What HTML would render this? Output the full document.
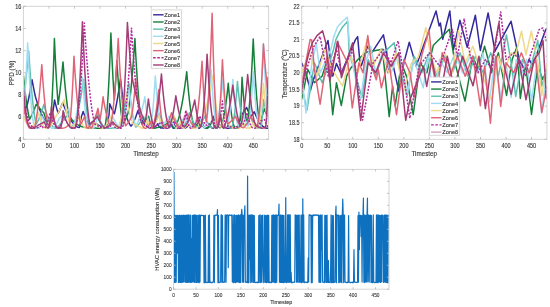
<!DOCTYPE html><html><head><meta charset="utf-8"><style>html,body{margin:0;padding:0;background:#fff;overflow:hidden}</style></head><body><svg width="550" height="307" viewBox="0 0 550 307" style="display:block;font-family:'Liberation Sans',Arial,Helvetica,sans-serif">
<rect width="550" height="307" fill="#ffffff"/>
<g clip-path="url(#cl)">
<polyline points="23.4,113.84 23.91,112.74 24.42,111.59 24.93,110.41 25.44,109.19 25.95,107.92 26.46,106.61 26.98,105.26 27.49,103.87 28,101.61 28.51,99.24 29.02,96.77 29.53,94.2 30.04,91.53 30.55,88.75 31.06,85.87 31.57,82.88 32.08,79.8 32.59,82.63 33.11,85.38 33.62,88.04 34.13,90.61 34.64,93.1 35.15,95.5 35.3,96.2 35.66,97.43 36.17,99.15 36.68,100.82 37.19,102.43 37.7,104 38.21,105.52 38.73,106.99 39.24,108.41 39.75,109.77 40.26,111.09 40.77,112.36 41.28,113.59 41.79,114.76 42.3,115.88 42.81,116.95 43.32,117.98 43.83,118.95 44.34,119.88 44.86,120.76 45.37,121.58 45.88,122.36 46.39,123.09 46.9,123.78 47.41,124.41 47.92,124.99 48.43,125.53 48.94,126.02 49.45,126.45 49.71,126.65 49.96,126.02 50.47,124.44 50.98,122.44 51.5,120 52.01,117.13 52.52,113.84 53.03,110.81 53.54,107.49 54.05,103.87 54.56,99.97 55.07,102.13 55.58,104.2 56.09,106.18 56.6,108.08 57.12,109.89 57.63,111.62 58.14,113.26 58.65,112.23 59.16,111.16 59.67,110.06 60.18,108.93 60.69,107.76 61.2,106.55 61.71,105.32 62.22,104.04 62.73,102.73 63.25,104.12 63.76,105.46 64.27,106.76 64.78,108.03 65.29,109.26 65.8,110.44 66.31,111.59 66.82,112.7 67.33,113.78 67.84,114.81 68.35,115.8 68.86,116.76 69.38,117.68 69.89,118.56 70.4,119.4 70.91,120.2 71.42,120.96 71.93,121.69 72.44,122.38 72.95,123.02 73.46,123.64 73.97,124.21 74.48,124.74 74.99,125.24 75.5,125.69 76.02,126.11 76.53,126.5 77.04,126.84 77.55,127.03 78.06,127.21 78.57,127.37 79.08,127.52 79.34,127.58 79.59,126.96 80.1,125.06 80.61,122.31 81.12,118.7 81.38,116.58 81.64,115.9 82.15,114.49 82.66,113 83.17,111.44 83.68,112.91 84.19,114.31 84.7,115.65 85.21,116.92 85.72,118.12 86.23,119.25 86.74,120.32 87.25,121.31 87.76,122.24 88.28,123.11 88.79,123.9 89.3,124.63 89.81,124.26 90.32,123.88 90.83,123.47 91.34,123.05 91.85,122.61 92.36,122.15 92.87,121.68 93.38,121.18 93.9,121.65 94.41,122.09 94.92,122.53 95.43,122.94 95.94,123.34 96.45,123.73 96.96,124.1 97.47,124.45 97.98,124.79 98.49,125.11 99,125.42 99.51,125.71 100.03,125.98 100.54,126.24 101.05,126.48 101.56,126.71 102.07,126.92 102.58,127.11 103.09,127.29 103.6,127.46 104.11,127.6 104.62,127.73 105.13,127.85 105.64,127.39 106.16,126.75 106.67,125.93 107.18,124.93 107.69,123.74 108.2,122.37 108.4,121.77 108.71,118.67 109.22,112.13 109.73,103.87 110.24,105.11 110.75,106.32 111.26,107.49 111.77,108.63 112.28,109.74 112.8,110.81 113.31,111.85 113.82,112.86 114.33,113.84 114.84,111.72 115.35,109.46 115.86,107.05 116.37,104.5 116.88,101.79 117.39,98.94 117.9,95.95 118.42,92.8 118.93,89.5 119.44,86.06 119.95,82.47 120.46,78.73 120.97,83.2 121.48,87.46 121.99,91.5 122.5,95.33 123.01,98.94 123.52,102.35 124.03,105.54 124.55,108.52 125.06,111.28 125.57,113.84 126.08,115.47 126.59,117.01 127.1,118.45 127.61,119.79 128.12,121.03 128.63,122.17 129.14,123.21 129.65,124.15 130.16,125 130.68,125.74 130.98,126.15 131.19,125.9 131.7,125.24 132.21,124.5 132.72,123.67 133.23,122.76 133.74,121.77 134.25,120.69 134.76,119.53 135.27,118.29 135.78,116.96 136.29,115.55 136.81,114.05 137.32,112.47 137.83,110.81 138.34,112.12 138.85,113.38 139.36,114.58 139.87,115.74 140.38,116.84 140.89,117.89 141.4,118.89 141.91,119.84 142.32,120.56 142.42,120.74 142.94,121.61 143.45,122.42 143.96,123.18 144.47,123.89 144.98,124.54 145.49,125.14 146,125.69 146.51,126.18 147.02,126.62 147.53,127 148.04,127.34 148.55,127.62 149.06,127.84 149.58,128.02 150.09,128.14 150.6,128.2 151.11,128.21 151.62,128.18 152.13,128.08 152.64,127.94 153.15,127.74 153.66,127.5 154.17,127.2 154.68,126.86 155.2,126.46 155.71,126.01 156.22,125.51 156.73,124.97 157.24,124.37 157.75,123.72 158.26,124.84 158.77,125.81 159.28,126.61 159.79,127.25 160.3,127.73 160.81,128.04 161.33,127.91 161.84,127.74 162.09,127.64 162.35,127.91 162.86,128.2 163.37,128.14 163.88,127.75 164.39,127.01 164.9,127.46 165.41,127.81 165.92,128.05 166.43,128.18 166.94,128.21 167.46,128.14 167.97,127.96 168.48,127.67 168.99,127.27 169.5,126.77 170.01,126.17 170.52,125.46 171.03,124.64 171.54,123.72 172.05,126 172.56,127.49 173.07,128.17 173.59,128.05 174.1,127.13 174.61,125.4 175.12,122.88 175.63,124.03 176.14,125.05 176.65,125.92 177.16,126.66 177.67,127.25 178.18,127.7 178.69,128.01 179.2,128.18 179.72,128.21 180.23,128.1 180.74,127.85 181.25,127.45 181.61,127.09 181.76,127.22 182.27,127.61 182.78,127.9 183.29,128.09 183.8,128.2 184.31,128.21 184.82,128.13 185.33,127.96 185.85,127.7 186.36,127.34 186.87,126.9 187.38,126.36 187.89,125.73 188.4,125 188.91,124.19 189.42,125.05 189.93,125.81 190.44,126.46 190.95,127.01 191.46,127.46 191.97,127.8 192.49,128.04 193,128.18 193.51,128.22 194.02,128.15 194.53,127.97 195.04,127.7 195.55,127.32 196.06,126.84 196.57,126.25 197.08,125.56 197.59,126.74 198.11,127.58 198.62,128.07 199.13,128.22 199.64,128.02 200.15,127.49 200.66,126.61 201.17,125.39 201.68,123.82 202.04,122.52 202.19,122.92 202.7,124.13 203.21,125.19 203.72,126.09 204.24,126.84 204.75,127.42 205.26,127.84 205.77,128.11 206.28,128.21 206.79,128.16 207.3,127.95 207.81,127.58 208.32,127.06 208.83,126.37 209.34,125.53 209.8,124.63 209.85,124.75 210.37,125.85 210.88,126.74 211.39,127.42 211.9,127.89 212.41,128.16 212.92,128.21 213.43,128.06 213.94,127.7 214.45,127.13 214.96,126.35 215.47,125.37 215.98,124.17 216.5,122.77 216.7,122.15 217.01,122.47 217.52,122.98 218.03,123.46 218.54,123.93 219.05,124.36 219.56,124.78 220.07,125.17 220.58,125.54 221.09,125.88 221.6,126.2 222.11,126.5 222.62,126.77 223.14,127.02 223.65,127.25 224.16,127.45 224.67,127.63 225.18,127.78 225.69,127.91 226.2,128.02 226.71,128.11 227.22,128.17 227.73,128.2 228.24,128.22 228.76,128.21 229.27,128.17 229.78,128.12 230.29,128.04 230.8,127.93 231.31,127.8 231.82,127.65 232.33,127.48 232.74,127.32 232.84,127.42 233.35,127.83 233.86,128.09 234.37,128.21 234.89,128.18 235.4,128.01 235.91,127.68 236.42,127.21 236.93,126.6 237.44,125.84 237.95,124.93 238.46,123.88 238.97,122.67 239.48,121.32 239.99,119.83 240.5,118.18 241.02,116.39 241.32,115.24 241.53,114.98 242.04,114.31 242.55,113.62 243.06,112.91 243.57,112.19 244.08,111.44 244.59,110.69 245.1,109.91 245.61,109.12 246.12,108.31 246.63,107.49 247.15,108.77 247.66,110.01 248.17,111.2 248.68,112.36 249.19,113.48 249.7,114.55 250.21,115.58 250.72,116.58 251.23,115.94 251.74,115.28 252.25,114.61 252.76,113.92 253.28,113.21 253.79,112.49 254.3,111.75 254.81,113.01 255.32,114.21 255.83,115.37 256.34,116.48 256.85,117.54 257.36,118.54 257.87,119.5 258.38,120.41 258.89,121.26 259.41,122.07 259.92,122.83 260.43,123.53 260.94,124.19 261.45,124.8 261.96,125.36 262.47,125.86 262.98,126.32 263.49,126.73 264,127.09 264.51,127.4 265.02,127.66 265.54,127.87 266.05,128.03 266.56,128.14 267.07,128.2 267.32,128.22 267.58,128.22 268.09,128.21 268.6,128.19" fill="none" stroke="#33299c" stroke-width="1.5" stroke-linejoin="round" opacity="1.0"/>
<polyline points="23.4,75.3 23.91,80.49 24.27,83.97 24.42,85.38 24.93,89.93 25.44,94.22 25.95,98.25 26.46,102.03 26.98,105.55 27.49,108.81 28,111.82 28.51,114.57 29.02,117.06 29.53,119.31 30.04,118.42 30.55,117.48 31.06,116.5 31.57,115.48 32.08,114.41 32.59,113.31 33.11,112.16 33.62,110.96 34.13,109.72 34.64,108.44 35.15,107.12 35.66,105.75 36.17,104.34 36.68,104.96 37.19,105.57 37.7,106.17 38.21,106.76 38.73,107.34 39.24,107.92 39.75,108.49 40.26,109.05 40.77,109.6 41.28,110.14 41.79,110.68 42.3,111.2 42.81,111.72 43.32,112.23 43.83,112.74 44.34,114.53 44.86,116.22 45.37,117.8 45.88,119.26 46.39,120.61 46.9,121.85 47.41,122.98 47.92,124 48.43,124.91 48.94,125.71 49.45,126.4 49.71,126.7 49.96,125.41 50.47,121.63 50.98,116.26 51.5,109.29 52.01,100.71 52.52,90.51 53.03,78.67 53.54,65.18 54.05,50.05 54.41,38.47 54.56,42.02 55.07,53.34 55.58,63.85 56.09,73.55 56.6,82.44 57.12,90.54 57.63,97.84 58.14,104.34 58.65,100.89 59.16,97.2 59.67,93.27 60.18,89.1 60.69,84.7 61.2,80.06 61.71,75.17 62.22,70.05 62.73,64.69 62.99,61.92 63.25,65.16 63.76,71.38 64.27,77.28 64.78,82.86 65.29,88.1 65.8,93.02 66.31,97.61 66.82,101.87 67.33,105.82 67.84,109.44 68.35,112.74 68.86,113.86 69.38,114.95 69.89,115.99 70.4,116.98 70.91,117.94 71.42,118.85 71.93,119.72 72.18,120.14 72.44,120.39 72.95,120.87 73.46,121.34 73.97,121.8 74.48,122.24 74.99,122.66 75.5,123.07 76.02,123.46 76.53,123.84 77.04,124.2 77.55,124.55 78.06,124.88 78.57,125.19 79.08,125.49 79.59,125.78 80.1,125.97 80.61,126.15 81.12,126.33 81.64,126.5 82.15,126.66 82.66,126.81 83.17,126.96 83.68,127.09 84.19,127.22 84.7,127.34 85.21,127.46 85.72,127.56 86.23,127.66 86.74,127.75 87.25,127.83 87.76,127.9 88.07,127.95 88.28,127.95 88.79,127.96 89.3,127.98 89.81,127.99 90.32,128 90.83,128.02 91.34,128.03 91.85,128.04 92.36,128.05 92.87,128.06 93.38,128.07 93.9,128.08 94.41,128.09 94.92,128.1 95.43,128.11 95.94,128.12 96.45,128.13 96.96,128.14 97.47,128.14 97.98,128.15 98.49,128.16 99,128.16 99.51,128.17 100.03,128.18 100.54,128.18 101.05,128.19 101.56,128.19 102.07,128.19 102.58,128.2 103.09,128.2 103.6,128.2 104.11,128.21 104.62,127.55 105.13,125.85 105.64,123.1 106.16,119.31 106.67,114.47 107.18,108.56 107.69,101.6 108.2,93.56 108.71,84.45 109.22,74.26 109.73,62.99 110.24,50.62 110.75,37.16 110.91,32.91 111.26,41.71 111.77,53.53 112.28,64.47 112.8,74.53 113.31,83.71 113.82,92.02 114.33,99.46 114.84,92.99 115.35,85.85 115.86,78.05 116.37,69.57 116.88,60.42 117.39,68.71 117.9,76.45 118.42,83.65 118.93,90.29 119.44,96.4 119.95,101.96 120.46,106.98 120.97,111.46 121.48,115.41 121.99,118.83 122.5,121.72 123.01,124.07 123.52,123.26 124.03,122.38 124.55,121.43 125.06,120.41 125.57,119.31 126.08,118.14 126.59,116.9 127.1,115.58 127.61,114.2 128.12,112.74 128.63,109.31 129.14,105.53 129.65,101.41 130.16,96.94 130.68,92.11 131.19,86.94 131.7,81.42 132.21,75.54 132.72,69.31 133.23,62.72 133.74,55.78 134.25,48.48 134.76,40.83 134.91,38.47 135.27,45.57 135.78,55.21 136.29,64.25 136.81,72.67 137.32,80.49 137.83,87.71 138.34,94.33 138.85,100.35 139.36,105.78 139.87,110.61 140.38,114.86 140.89,118.51 141.4,121.58 141.91,124.07 142.42,123.61 142.94,123.13 143.45,122.63 143.96,122.1 144.47,121.54 144.98,120.97 145.49,120.36 146,119.74 146.51,119.09 147.02,118.42 147.53,117.72 148.04,117 148.55,116.25 149.06,118.29 149.58,120.13 150.09,121.78 150.6,123.25 151.11,124.52 151.62,125.61 152.13,126.51 152.64,127.22 153.15,127.74 153.66,128.07 154.17,128.21 154.68,128.16 155.09,127.99 155.2,127.98 155.71,127.9 156.22,127.82 156.73,127.72 157.24,127.61 157.75,127.49 158.26,127.37 158.77,127.23 159.28,127.08 159.79,126.92 160.3,126.75 160.81,126.57 161.33,126.38 161.84,126.18 162.35,125.96 162.86,125.74 163.37,125.51 163.88,125.26 164.39,125.01 164.9,124.74 165.41,124.47 165.92,124.18 166.43,123.89 166.94,123.58 167.46,123.26 167.97,122.94 168.48,122.6 168.99,122.25 169.5,121.89 170.01,121.52 170.52,121.14 171.03,120.75 171.13,120.67 171.54,122.49 172.05,124.42 172.56,125.95 173.07,127.09 173.59,127.83 174.1,128.19 174.61,128.15 175.12,127.72 175.63,126.89 176.14,125.68 176.65,124.07 177.16,122.87 177.67,121.51 178.18,120 178.69,118.33 179.2,116.51 179.72,114.53 180.23,112.4 180.74,110.11 181.25,107.67 181.76,105.07 182.27,102.31 182.78,99.4 183.29,96.33 183.8,93.1 184.31,89.72 184.82,86.18 185.33,82.47 185.85,78.61 186.36,74.59 186.71,71.68 186.87,73.58 187.38,79.65 187.89,85.36 188.4,90.71 188.91,95.69 189.42,100.32 189.93,104.59 190.44,108.5 190.95,112.05 191.46,115.25 191.97,118.09 192.49,120.58 193,122.72 193.51,124.51 194.02,125.95 194.53,127.03 195.04,126.58 195.55,126.06 196.06,125.47 196.57,124.81 197.08,124.07 197.59,123.26 198.11,122.38 198.62,121.43 199.13,120.41 199.64,119.31 200.15,120.77 200.66,122.1 201.17,123.3 201.68,124.36 202.19,125.3 202.7,126.11 203.21,126.78 203.72,127.33 204.24,127.74 204.75,128.03 205.26,128.18 205.77,128.21 206.28,128.11 206.79,128.21 207.3,128.17 207.81,127.99 208.32,127.65 208.83,127.17 209.34,126.55 209.85,125.78 210.37,124.86 210.88,123.79 211.39,122.58 211.9,121.22 212.41,119.71 212.92,118.05 213.43,116.25 213.94,117.72 214.45,119.09 214.96,120.36 215.47,121.54 215.98,122.63 216.5,123.61 217.01,124.5 217.52,125.3 218.03,126 218.54,126.6 219.05,127.11 219.56,127.52 220.07,127.84 220.58,127.23 221.09,126.33 221.6,125.15 222.11,123.68 222.62,121.92 223.14,119.87 223.65,117.53 224.16,114.9 224.67,111.98 225.18,108.77 225.69,105.26 226.2,101.47 226.71,97.38 227.22,92.99 227.73,88.31 228.24,83.33 228.76,89.4 229.27,95.02 229.78,100.2 230.29,104.93 230.8,109.22 231.31,113.07 231.82,116.49 232.33,119.46 232.84,122 233.35,124.11 233.86,125.78 234.37,126.33 234.89,126.82 235.4,127.23 235.91,127.57 236.42,127.84 236.93,128.04 237.44,128.16 237.95,128.21 238.46,128.2 238.72,128.16 238.97,128.11 239.48,126.09 239.99,121.52 240.5,114.39 241.02,104.66 241.53,92.33 242.04,77.37 242.55,84.41 243.06,90.92 243.57,96.9 244.08,102.35 244.59,107.27 245.1,111.67 245.61,115.55 246.12,118.91 246.63,121.75 247.15,124.07 247.66,121.17 248.17,117.5 248.68,113.06 249.19,107.85 249.7,101.86 250.21,95.08 250.72,87.52 251.23,79.17 251.74,70.03 252.25,60.09 252.76,49.36 253.22,39.01 253.28,40.1 253.79,50.6 254.3,60.42 254.81,69.57 255.32,78.05 255.83,85.85 256.34,92.99 256.85,99.46 257.36,105.26 257.87,110.41 258.38,114.9 258.89,118.73 259.41,121.92 259.92,120.93 260.43,119.87 260.94,118.73 261.45,117.53 261.96,116.25 262.47,114.9 262.98,113.48 263.49,111.98 264,110.41 264.51,108.77 265.02,110.31 265.54,111.79 266.05,113.2 266.56,114.55 267.07,115.84 267.58,117.06 268.09,118.21 268.6,119.31" fill="none" stroke="#16803a" stroke-width="1.5" stroke-linejoin="round" opacity="1.0"/>
<polyline points="23.4,99.46 23.91,95.83 24.42,91.98 24.93,87.91 25.44,83.62 25.95,79.11 26.46,74.38 26.98,69.43 27.49,64.26 28,58.87 28.51,53.25 28.71,50.94 29.02,55.78 29.53,63.49 30.04,70.75 30.55,77.58 31.06,83.97 31.57,89.93 32.08,95.44 32.59,100.53 33.11,105.18 33.62,109.4 34.13,113.18 34.64,116.54 35.15,119.48 35.66,121.99 36.17,124.07 36.68,123.26 37.19,122.38 37.7,121.43 38.21,120.41 38.73,119.31 39.24,118.14 39.75,116.9 40.26,115.58 40.77,114.2 41.28,112.74 41.79,111.2 42.3,109.6 42.81,107.92 43.32,106.17 43.83,104.34 44.34,106.24 44.86,108.06 45.37,109.8 45.88,111.46 46.39,113.05 46.9,114.55 47.41,115.97 47.92,117.32 48.43,118.59 48.94,119.77 49.45,120.88 49.96,121.92 50.47,123.02 50.98,124.02 51.5,124.91 52.01,125.69 52.52,126.37 53.03,126.94 53.54,127.41 54.05,127.77 54.56,128.02 55.07,128.17 55.33,128.21 55.58,128.21 56.09,128.08 56.6,127.77 57.12,127.27 57.63,126.58 58.14,126.17 58.65,125.71 59.16,125.21 59.67,124.65 60.18,124.06 60.49,123.68 60.69,123.45 61.2,122.88 61.71,122.27 62.22,121.63 62.73,120.95 63.25,120.25 63.76,119.51 64.27,118.73 64.78,118.23 65.29,117.71 65.8,117.18 66.31,116.64 66.82,116.08 67.33,115.52 67.84,114.93 68.35,114.34 68.86,113.73 69.38,113.11 69.89,122.53 70.4,127.44 70.91,127.84 71.42,127.46 71.93,126.95 72.44,126.3 72.95,125.53 73.46,124.63 73.97,123.59 74.48,122.42 74.99,121.12 75.5,119.69 76.02,118.13 76.53,116.43 77.04,114.61 77.55,112.65 78.06,110.55 78.57,108.33 79.08,105.97 79.59,103.47 80.1,100.84 80.61,98.08 81.12,95.18 81.64,92.15 82.15,88.99 82.66,85.68 83.17,82.25 83.58,79.4 83.68,80.64 84.19,86.61 84.7,92.17 85.21,97.32 85.72,102.08 86.23,106.43 86.74,110.38 87.25,113.94 87.76,117.1 88.28,119.86 88.79,122.22 89.3,124.2 89.81,125.78 90.32,125.26 90.83,124.69 91.34,124.07 91.85,123.4 92.36,122.68 92.87,121.92 93.38,121.1 93.9,120.23 94.41,119.31 94.92,118.34 95.43,117.32 95.94,116.25 96.45,115.13 96.96,113.96 97.47,112.74 97.98,114.43 98.49,116.03 99,117.53 99.51,118.93 100.03,120.23 100.54,121.43 101.05,122.53 101.56,123.54 102.07,124.45 102.58,125.26 103.09,125.97 103.6,126.58 104.11,127.1 104.62,127.52 105.13,127.84 105.64,127.92 106.16,127.99 106.67,128.05 107.18,128.1 107.69,128.14 108.2,128.17 108.71,128.2 109.22,128.21 109.73,128.22 110.24,128.21 110.75,128.2 111.26,128.18 111.77,128.15 112.28,128.11 112.8,128.06 113.31,128 113.82,127.93 114.33,127.85 114.84,127.77 115.35,127.67 115.86,127.57 116.37,128.03 116.88,128.21 117.39,128.13 117.9,127.77 118.42,127.14 118.93,126.24 119.44,125.07 119.95,123.63 120.46,121.92 120.97,120.58 121.48,119.12 121.99,117.53 122.5,115.81 123.01,113.96 123.52,111.98 124.03,109.87 124.55,107.63 125.06,105.26 125.57,102.77 126.08,100.14 126.59,97.38 127.1,94.48 127.61,91.46 128.12,88.31 128.63,85.02 128.89,83.33 129.14,86.08 129.65,91.33 130.16,96.23 130.68,100.77 131.19,104.96 131.7,108.8 132.21,112.29 132.72,115.43 133.23,118.23 133.74,120.68 134.25,122.78 134.76,124.54 135.27,125.96 135.78,127.03 136.29,126.66 136.81,126.24 137.32,125.78 137.83,125.26 138.34,124.69 138.85,124.07 139.36,123.4 139.87,122.68 140.38,121.92 140.89,121.1 141.4,120.23 141.91,119.31 142.42,118.34 142.94,117.32 143.45,116.25 143.96,117.53 144.47,118.73 144.98,119.87 145.49,120.93 146,121.92 146.51,122.83 147.02,123.68 147.53,124.45 148.04,125.15 148.55,125.78 149.06,126.33 149.58,126.82 150.09,127.23 150.6,127.57 151.11,127.84 151.62,127.52 152.13,127.1 152.64,126.58 153.15,125.97 153.66,125.26 154.17,124.45 154.68,123.54 155.2,122.53 155.71,121.43 156.22,120.23 156.73,118.93 157.24,117.53 157.75,116.03 158.26,114.43 158.77,112.74 159.28,114.2 159.79,115.58 160.3,116.9 160.81,118.14 161.33,119.31 161.84,120.41 162.35,121.43 162.86,122.38 163.37,123.26 163.88,124.07 164.39,124.81 164.9,125.47 165.41,126.06 165.92,126.58 166.43,127.03 166.94,126.66 167.46,126.24 167.97,125.78 168.48,125.26 168.99,124.69 169.5,124.07 170.01,123.4 170.52,122.68 171.03,121.92 171.54,121.1 172.05,120.23 172.56,119.31 173.07,118.34 173.59,117.32 174.1,116.25 174.61,117.53 175.12,118.73 175.63,119.87 176.14,120.93 176.65,121.92 177.16,122.83 177.67,123.68 178.18,124.45 178.69,125.15 179.2,125.78 179.72,126.33 180.23,126.82 180.74,127.23 181.25,127.57 181.76,127.84 182.27,127.52 182.78,127.1 183.29,126.58 183.8,125.97 184.31,125.26 184.82,124.45 185.33,123.54 185.85,122.53 186.36,121.43 186.87,120.23 187.38,118.93 187.89,117.53 188.4,116.03 188.91,114.43 189.42,112.74 189.93,114.2 190.44,115.58 190.95,116.9 191.46,118.14 191.97,119.31 192.49,120.41 193,121.43 193.51,122.38 194.02,123.26 194.53,124.07 195.04,124.81 195.55,125.47 196.06,126.06 196.57,126.58 197.08,127.03 197.59,126.66 198.11,126.24 198.62,125.78 199.13,125.26 199.64,124.69 200.15,124.07 200.66,123.4 201.17,122.68 201.68,121.92 202.19,121.1 202.7,120.23 203.21,119.31 203.72,118.34 204.24,117.32 204.75,116.25 205.26,117.53 205.77,118.73 206.28,119.87 206.79,120.93 207.3,121.92 207.81,122.83 208.32,123.68 208.83,124.45 209.34,125.15 209.85,125.78 210.37,126.33 210.88,126.82 211.39,127.23 211.9,127.57 212.41,127.84 212.92,127.52 213.43,127.1 213.94,126.58 214.45,125.97 214.96,125.26 215.47,124.45 215.98,123.54 216.5,122.53 217.01,121.43 217.52,120.23 218.03,118.93 218.54,117.53 219.05,116.03 219.56,114.43 220.07,112.74 220.58,115.53 221.09,118.05 221.6,120.28 222.11,122.24 222.62,123.92 223.14,125.33 223.65,126.45 224.16,127.3 224.67,127.87 225.18,128.17 225.69,128.19 226.2,127.94 226.71,127.41 227.22,126.6 227.73,125.51 228.14,124.45 228.24,124.78 228.76,126.19 229.27,127.24 229.78,127.91 230.29,128.2 230.8,128.12 231.31,127.67 231.82,126.85 232.33,125.65 232.84,124.07 233.35,121.62 233.86,118.6 234.37,115.01 234.89,110.85 235.4,106.12 235.91,100.81 236.42,94.91 236.93,88.44 237.44,81.38 237.95,86.81 238.46,91.89 238.97,96.64 239.48,101.05 239.99,105.12 240.5,108.87 241.02,112.27 241.53,115.35 242.04,118.09 242.55,120.51 243.06,122.59 243.57,124.35 244.08,125.78 244.59,125.3 245.1,124.78 245.61,124.22 246.12,123.61 246.63,122.97 247.15,122.28 247.66,121.54 248.17,120.77 248.68,119.95 249.19,119.09 249.7,118.19 250.21,117.24 250.72,116.25 251.23,118.03 251.74,119.67 252.25,121.16 252.76,122.51 253.28,123.72 253.79,124.78 254.3,125.7 254.81,126.47 255.32,127.11 255.83,127.6 256.34,127.95 256.85,128.15 257.36,128.22 257.87,128.14 258.38,127.92 258.89,127.55 259.41,127.04 259.51,126.93 259.92,127.99 260.43,128.09 260.94,126.8 261.45,124.12 261.96,120.06 262.47,114.6 262.98,107.73 263.49,99.46 264,101.96 264.51,104.34 265.02,106.61 265.54,108.77 266.05,110.81 266.56,112.74 267.07,114.55 267.58,116.25 268.09,117.84 268.6,119.31" fill="none" stroke="#5cc0b0" stroke-width="1.5" stroke-linejoin="round" opacity="1.0"/>
<polyline points="23.4,112.74 23.91,107.4 24.42,101.27 24.93,94.33 25.44,86.59 25.95,78.04 26.46,68.68 26.98,58.5 27.49,47.5 27.69,42.88 28,49.67 28.51,60.36 29.02,70.25 29.53,79.35 30.04,87.66 30.55,95.19 31.06,101.94 31.57,107.91 32.08,113.1 32.59,117.52 33.11,121.18 33.62,124.07 34.13,125.25 34.64,126.23 35.15,127.02 35.66,127.61 36.17,128 36.68,128.19 37.19,128.19 37.7,127.99 38.01,127.78 38.21,128.02 38.73,128.21 39.24,127.81 39.75,126.82 40.26,125.25 40.77,123.09 41.28,120.34 41.79,116.99 41.89,116.25 42.3,117.13 42.81,118.18 43.32,119.18 43.83,120.13 44.34,121.02 44.86,121.86 45.37,122.65 45.88,123.39 46.39,124.07 46.9,124.68 47.41,125.25 47.92,125.76 48.43,126.23 48.94,126.65 49.45,127.01 49.96,127.33 50.47,127.6 50.98,127.82 51.5,128 52.01,128.12 52.52,128.19 52.72,128.21 53.03,128.21 53.54,128.03 54.05,127.64 54.56,127.02 55.07,126.19 55.58,125.15 56.09,124.45 56.6,123.68 57.12,122.83 57.63,121.92 58.14,120.93 58.65,119.87 59.16,118.73 59.67,118.23 60.18,117.71 60.69,117.18 61.2,116.64 61.71,116.08 62.22,115.52 62.73,114.93 63.25,114.34 63.76,113.73 64.27,113.11 64.78,112.63 65.29,112.14 65.8,111.64 66.31,111.14 66.82,110.63 67.33,110.11 67.84,109.59 68.35,109.05 68.86,108.51 69.02,108.35 69.38,113.54 69.89,119.59 70.4,124.04 70.91,126.89 71.42,128.15 71.62,128.21 71.93,128.11 72.44,127.71 72.95,127.02 73.46,126.03 73.97,124.75 74.48,123.16 74.99,121.29 75.5,119.11 76.02,116.64 76.53,113.86 77.04,110.79 77.55,107.41 78.06,103.74 78.57,99.76 79.08,95.48 79.59,90.89 80.1,86 80.61,80.8 81.12,75.3 81.64,76.45 82.15,77.6 82.66,78.73 83.17,86.27 83.68,93.18 84.19,99.46 84.7,105.11 85.21,110.14 85.72,114.55 86.23,118.34 86.74,121.51 87.25,124.07 87.76,124.98 88.28,125.78 88.79,126.46 89.3,127.03 89.81,127.49 90.32,127.84 90.83,128.07 91.34,128.2 91.85,128.21 92.36,128.11 92.87,128.21 93.38,128.04 93.9,127.57 94.41,126.82 94.92,125.78 95.43,124.45 95.94,122.83 96.45,120.93 96.96,118.73 97.47,116.25 97.98,117.73 98.49,119.12 99,120.41 99.51,121.59 100.03,122.68 100.54,123.68 101.05,124.57 101.56,125.36 102.07,126.06 102.58,126.66 103.09,127.16 103.6,127.57 104.11,127.88 104.62,128.08 105.13,128.2 105.64,128.08 106.16,127.88 106.67,127.57 107.18,127.16 107.69,126.66 108.2,126.06 108.71,125.36 109.22,124.57 109.73,123.68 110.24,122.68 110.75,121.59 111.26,120.41 111.77,119.12 112.28,117.73 112.8,116.25 113.31,117.53 113.82,118.73 114.33,119.87 114.84,120.93 115.35,121.92 115.86,122.83 116.37,123.68 116.88,124.45 117.39,125.15 117.9,125.78 118.42,126.33 118.93,126.82 119.44,127.23 119.95,127.57 120.46,127.84 120.97,127.3 121.48,126.52 121.99,125.5 122.5,124.24 123.01,122.75 123.52,121.02 124.03,119.05 124.55,116.84 125.06,114.39 125.57,111.7 126.08,108.77 126.59,105.6 127.1,102.18 127.61,98.52 128.12,94.62 128.63,90.47 128.89,88.31 129.14,90.51 129.65,94.73 130.16,98.7 130.68,102.41 131.19,105.87 131.7,109.08 132.21,112.04 132.72,114.74 133.23,117.2 133.74,119.41 134.25,121.38 134.76,123.09 135.27,124.56 135.78,125.78 136.29,125.01 136.81,124.15 137.32,123.18 137.83,122.1 138.34,120.92 138.85,119.64 139.36,118.26 139.87,116.76 140.38,115.17 140.89,113.47 141.4,111.66 141.91,109.75 142.42,107.74 142.94,105.61 143.45,103.39 143.96,101.05 144.47,98.61 144.83,96.84 144.98,98.3 145.49,102.92 146,107.15 146.51,110.98 147.02,114.43 147.53,117.49 148.04,120.17 148.55,122.46 149.06,124.36 149.58,125.89 150.09,127.03 150.6,125.37 151.11,122.99 151.62,119.88 152.13,116.06 152.64,111.5 153.15,106.22 153.66,100.21 154.17,93.45 154.68,85.96 155.2,77.73 155.3,75.99 155.71,81.43 156.22,87.79 156.73,93.69 157.24,99.11 157.75,104.07 158.26,108.55 158.77,112.58 159.28,116.14 159.79,119.24 160.3,121.87 160.81,124.05 161.33,125.78 161.84,125.36 162.35,124.92 162.86,124.45 163.37,123.94 163.88,123.4 164.39,122.83 164.9,122.23 165.41,121.59 165.92,120.93 166.43,120.23 166.94,119.5 167.46,118.73 167.97,117.94 168.48,117.11 168.99,116.25 169.5,117.53 170.01,118.73 170.52,119.87 171.03,120.93 171.54,121.92 172.05,122.83 172.56,123.68 173.07,124.45 173.59,125.15 174.1,125.78 174.61,126.33 175.12,126.82 175.63,127.23 176.14,127.57 176.65,127.84 177.16,127.57 177.67,127.23 178.18,126.82 178.69,126.33 179.2,125.78 179.72,125.15 180.23,124.45 180.74,123.68 181.25,122.83 181.76,121.92 182.27,120.93 182.78,119.87 183.29,118.73 183.8,117.53 184.31,116.25 184.82,117.32 185.33,118.34 185.85,119.31 186.36,120.23 186.87,121.1 187.38,121.92 187.89,122.68 188.4,123.4 188.91,124.07 189.42,124.69 189.93,125.26 190.44,125.78 190.95,126.24 191.46,126.66 191.97,127.03 192.49,126.66 193,126.24 193.51,125.78 194.02,125.26 194.53,124.69 195.04,124.07 195.55,123.4 196.06,122.68 196.57,121.92 197.08,121.1 197.59,120.23 198.11,119.31 198.62,118.34 199.13,117.32 199.64,116.25 200.15,118.14 200.66,119.87 201.17,121.43 201.68,122.83 202.19,124.07 202.7,125.15 203.21,126.06 203.72,126.82 204.24,127.41 204.75,127.84 205.26,126.83 205.77,125.2 206.28,122.93 206.79,120.03 207.3,116.5 207.81,112.33 208.32,107.52 208.83,102.06 209.34,95.97 209.85,89.22 210.37,81.82 210.88,73.77 211.13,69.5 211.39,73.9 211.9,82.17 212.41,89.74 212.92,96.63 213.43,102.83 213.94,108.35 214.45,113.18 214.96,117.34 215.47,120.82 215.98,123.64 216.5,125.78 217.01,124.17 217.52,122.15 218.03,119.73 218.54,116.9 219.05,113.66 219.56,110.01 220.07,105.94 220.58,101.47 221.09,96.58 221.6,91.27 222.11,85.54 222.62,79.4 223.14,86.1 223.65,92.31 224.16,98.01 224.67,103.21 225.18,107.92 225.69,112.13 226.2,115.85 226.71,119.08 227.22,121.82 227.73,124.07 228.24,121.82 228.76,119.08 229.27,115.85 229.78,112.13 230.29,107.92 230.8,103.21 231.31,98.01 231.82,92.31 232.33,86.1 232.84,79.4 233.35,86.72 233.86,93.44 234.37,99.56 234.89,105.08 235.4,110.01 235.91,114.34 236.42,118.08 236.93,121.23 237.44,123.8 237.95,125.78 238.46,125.26 238.97,124.69 239.48,124.07 239.99,123.4 240.5,122.68 241.02,121.92 241.53,121.1 242.04,120.23 242.55,119.31 243.06,118.34 243.57,117.32 244.08,116.25 244.59,117.84 245.1,119.31 245.61,120.67 246.12,121.92 246.63,123.05 247.15,124.07 247.66,124.98 248.17,125.78 248.68,123.57 249.19,120.67 249.7,117.06 250.21,112.74 250.72,107.7 251.23,101.96 251.74,95.49 252.25,88.31 252.76,80.4 253.28,71.76 253.79,79.73 254.3,87.09 254.81,93.83 255.32,99.97 255.83,105.49 256.34,110.41 256.85,114.73 257.36,118.44 257.87,121.55 258.38,124.07 258.89,120.46 259.41,115.73 259.92,109.86 260.43,102.85 260.94,94.7 261.45,85.39 261.96,74.93 262.47,63.31 262.98,50.51 263.24,43.67 263.49,48.65 264,58.15 264.51,67.03 265.02,75.3 265.54,82.96 266.05,90.01 266.56,96.46 267.07,102.31 267.58,107.55 268.09,112.2 268.6,116.25" fill="none" stroke="#a0dcf2" stroke-width="1.5" stroke-linejoin="round" opacity="1.0"/>
<polyline points="23.4,116.25 23.91,117.53 24.42,118.73 24.93,119.87 25.44,120.93 25.95,121.92 26.46,122.83 26.98,123.68 27.49,124.45 28,125.15 28.51,125.78 29.02,126.33 29.53,126.82 30.04,127.23 30.55,127.57 31.06,127.84 31.57,127.52 32.08,127.1 32.59,126.58 33.11,125.97 33.62,125.26 34.13,124.45 34.64,123.54 35.15,122.53 35.66,121.43 36.17,120.23 36.68,118.93 37.19,117.53 37.7,116.03 38.21,114.43 38.73,112.74 39.24,114.67 39.75,116.47 40.26,118.14 40.77,119.68 41.28,121.1 41.79,122.38 42.3,123.54 42.81,124.57 43.32,125.47 43.83,126.24 44.34,126.89 44.86,127.41 45.37,127.8 45.88,128.06 46.39,128.2 46.9,128.11 47.41,127.95 47.92,127.71 48.43,127.41 48.94,127.03 49.45,126.58 49.96,126.06 50.47,125.47 50.98,124.81 51.5,124.07 52.01,123.26 52.52,122.38 53.03,121.43 53.54,120.41 54.05,119.31 54.56,118.59 55.07,117.84 55.58,117.06 56.09,116.25 56.6,115.41 57.12,114.55 57.63,113.66 58.14,112.74 58.65,111.79 59.16,110.81 59.67,109.8 60.18,108.77 60.69,107.7 61.2,106.61 61.71,105.49 62.22,104.34 62.73,103.16 63.25,101.96 63.76,100.72 64.27,99.46 64.78,102.44 65.29,105.26 65.8,107.92 66.31,110.41 66.82,112.74 67.33,114.9 67.84,116.9 68.35,118.73 68.86,120.41 69.38,121.92 69.89,123.26 70.4,124.45 70.91,125.47 71.42,126.33 71.93,127.03 72.44,126.66 72.95,126.24 73.46,125.78 73.97,125.26 74.48,124.69 74.99,124.07 75.5,123.4 76.02,122.68 76.53,121.92 77.04,121.1 77.55,120.23 78.06,119.31 78.57,118.34 79.08,117.32 79.59,116.25 80.1,118.01 80.61,119.62 81.12,121.1 81.64,122.43 82.15,123.63 82.66,124.69 83.17,125.61 83.68,126.39 84.19,127.03 84.7,127.53 85.21,127.9 85.72,128.13 86.23,128.22 86.74,128.17 87.25,127.98 87.76,127.65 88.28,127.19 88.79,126.58 89.3,127.29 89.81,127.8 90.32,128.11 90.83,128.22 91.34,128.13 91.85,127.84 92.36,127.35 92.87,126.66 93.38,125.78 93.9,124.69 94.41,123.4 94.92,121.92 95.43,122.68 95.94,123.4 96.45,124.07 96.96,124.69 97.47,125.26 97.98,125.78 98.49,126.24 99,126.66 99.51,127.03 100.03,127.35 100.54,127.62 101.05,127.84 101.56,128.01 102.07,128.13 102.58,128.2 103.09,128.08 103.6,127.88 104.11,127.57 104.62,127.16 105.13,126.66 105.64,126.06 106.16,125.36 106.67,124.57 107.18,123.68 107.69,122.68 108.2,121.59 108.71,120.41 109.22,119.12 109.73,117.73 110.24,116.25 110.75,117.53 111.26,118.73 111.77,119.87 112.28,120.93 112.8,121.92 113.31,122.83 113.82,123.68 114.33,124.45 114.84,125.15 115.35,125.78 115.86,126.33 116.37,126.82 116.88,127.23 117.39,127.57 117.9,127.84 118.42,127.19 118.93,126.22 119.44,124.93 119.95,123.32 120.46,121.39 120.97,119.15 121.48,116.58 121.99,113.68 122.5,110.47 123.01,106.93 123.52,103.06 124.03,98.87 124.55,94.35 125.06,89.5 125.57,92.71 126.08,95.77 126.59,98.69 127.1,101.47 127.61,104.11 128.12,106.61 128.63,108.98 129.14,111.2 129.65,113.29 130.16,115.24 130.68,117.06 131.19,118.73 131.7,120.27 132.21,121.68 132.72,122.94 133.23,124.07 133.74,124.3 134.25,124.53 134.76,124.75 135.27,124.97 135.78,125.17 136.29,125.37 136.81,125.57 137.32,125.75 137.83,125.93 138.34,126.11 138.85,126.27 139.36,126.43 139.87,126.58 140.38,127.23 140.89,127.71 141.4,128.04 141.91,128.2 142.42,128.2 142.94,128.04 143.45,127.71 143.96,127.23 144.47,126.58 144.98,125.78 145.49,124.81 146,123.68 146.51,122.38 147.02,120.93 147.53,119.31 148.04,121.68 148.55,123.68 149.06,125.31 149.58,126.58 150.09,127.49 150.6,128.04 151.11,128.22 151.62,128.04 152.13,127.49 152.64,126.58 153.15,126.09 153.66,125.52 154.17,124.89 154.68,124.2 155.2,123.44 155.71,122.61 156.22,121.72 156.73,120.76 157.24,119.73 157.75,118.64 158.26,117.48 158.77,116.25 159.28,117.53 159.79,118.73 160.3,119.87 160.81,120.93 161.33,121.92 161.84,122.83 162.35,123.68 162.86,124.45 163.37,125.15 163.88,125.78 164.39,126.33 164.9,126.82 165.41,127.23 165.92,127.57 166.43,127.84 166.94,127.57 167.46,127.23 167.97,126.82 168.48,126.33 168.99,125.78 169.5,125.15 170.01,124.45 170.52,123.68 171.03,122.83 171.54,121.92 172.05,120.93 172.56,119.87 173.07,118.73 173.59,117.53 174.1,116.25 174.61,119.47 175.12,122.19 175.63,124.4 176.14,126.11 176.65,127.31 177.16,128.01 177.67,128.21 178.18,127.91 178.69,127.11 179.2,125.8 179.72,123.99 180.23,121.68 180.74,123.36 181.25,124.79 181.76,125.98 182.27,126.91 182.78,127.59 183.29,128.03 183.8,128.21 184.31,128.14 184.82,127.83 185.33,127.26 185.85,126.45 186.36,125.39 186.87,124.07 187.38,124.69 187.89,125.26 188.4,125.78 188.91,126.24 189.42,126.66 189.93,127.03 190.44,127.35 190.95,127.62 191.46,127.84 191.97,128.01 192.49,128.13 193,128.2 193.51,128.22 194.02,128.19 194.53,128.11 195.04,128.2 195.55,128.2 196.06,128.11 196.57,127.91 197.08,127.62 197.59,127.23 198.11,126.74 198.62,126.15 199.13,125.47 199.64,124.69 200.15,123.81 200.66,122.83 201.17,121.76 201.68,120.58 202.19,119.31 202.7,118.04 203.21,116.69 203.72,115.25 204.24,113.72 204.75,112.11 205.26,110.42 205.77,108.64 206.28,106.77 206.79,104.82 207.3,102.78 207.81,100.66 208.32,98.45 208.83,96.15 209.34,93.77 209.85,91.3 210.37,88.74 210.88,86.1 211.39,83.37 211.9,80.55 212.1,79.4 212.41,78.31 212.92,76.47 213.43,74.6 213.94,81.43 214.45,87.79 214.96,93.68 215.47,99.1 215.98,104.06 216.5,108.54 217.01,112.56 217.52,116.12 218.03,119.22 218.54,121.86 219.05,124.04 219.56,125.76 220.07,127.03 220.58,126.46 221.09,125.78 221.6,124.98 222.11,124.07 222.62,123.05 223.14,121.92 223.65,120.67 224.16,119.31 224.67,117.84 225.18,116.25 225.69,117.53 226.2,118.73 226.71,119.87 227.22,120.93 227.73,121.92 228.24,122.83 228.76,123.68 229.27,124.45 229.78,125.15 230.29,125.78 230.8,126.33 231.31,126.82 231.82,127.23 232.33,127.57 232.84,127.84 233.35,127.8 233.86,127.75 234.37,127.71 234.89,127.66 235.4,127.61 235.91,127.56 236.42,127.51 236.93,127.45 237.34,127.41 237.44,127.51 237.95,127.92 238.46,128.15 238.97,128.22 239.48,128.11 239.99,127.83 240.5,127.38 241.02,126.76 241.53,125.97 242.04,125.01 242.55,123.88 243.06,122.58 243.21,122.15 243.57,123.41 244.08,124.96 244.59,126.2 245.1,127.15 245.61,127.8 246.12,128.15 246.63,128.2 247.15,127.95 247.66,127.41 248.17,127.88 248.68,128.15 249.19,128.21 249.7,128.07 250.21,127.73 250.72,127.17 251.23,126.42 251.74,125.46 252.25,124.29 252.76,122.92 253.02,122.15 253.28,123.01 253.79,124.52 254.3,125.78 254.81,126.77 255.32,127.51 255.83,127.98 256.34,128.2 256.85,128.16 257.36,127.86 257.87,127.3 258.38,126.48 258.89,125.41 259.41,124.07 259.92,121.37 260.43,117.99 260.94,113.93 261.45,109.19 261.96,103.76 262.47,97.64 262.98,90.83 263.49,83.33 264,89.39 264.51,95 265.02,100.17 265.54,104.9 266.05,109.19 266.56,113.03 267.07,116.45 267.58,119.42 268.09,121.96 268.6,124.07" fill="none" stroke="#f0d88a" stroke-width="1.5" stroke-linejoin="round" opacity="1.0"/>
<polyline points="23.4,104.34 23.91,107.34 24.42,110.14 24.93,112.74 25.44,115.63 25.95,118.23 26.46,120.52 26.98,122.52 27.49,124.21 28,125.61 28.51,126.71 29.02,127.51 29.53,128.01 30.04,128.21 30.55,128.12 31.06,127.73 31.57,127.04 31.83,126.58 32.08,126.6 32.59,126.64 33.11,126.68 33.41,126.7 33.62,127.37 34.13,128.2 34.64,127.8 35.15,126.19 35.66,123.36 36.17,119.31 36.68,116.41 37.19,113.1 37.7,109.38 38.21,105.25 38.73,100.7 39.24,95.74 39.75,90.35 40.26,84.55 40.77,78.33 41.28,71.69 41.79,64.63 42.3,72.28 42.81,79.44 43.32,86.09 43.83,92.26 44.34,97.93 44.86,103.1 45.37,107.79 45.88,111.99 46.39,115.7 46.9,118.93 47.41,121.68 47.92,123.94 48.43,125.73 48.94,127.03 49.45,126.13 49.96,124.98 50.47,123.57 50.98,121.92 51.5,120 52.01,117.84 52.52,115.41 53.03,112.74 53.54,115.9 54.05,118.71 54.56,121.15 55.07,123.23 55.58,124.94 56.09,126.3 56.6,127.29 57.12,127.93 57.63,128.2 58.14,128.12 58.65,127.68 58.9,127.32 59.16,127.45 59.67,127.69 60.18,127.88 60.69,128.03 61.2,128.13 61.71,128.2 62.22,128.22 62.73,128.2 63.25,128.13 63.76,128.02 64.27,127.88 64.78,127.68 65.29,127.45 65.8,127.17 66.31,126.85 66.82,126.49 67.33,126.09 67.84,125.64 68.35,125.15 68.86,124.62 69.38,124.04 69.68,123.68 69.89,122.3 70.4,118.07 70.91,112.7 71.42,106.19 71.93,98.52 72.44,89.69 72.95,79.69 73.46,68.52 73.97,56.17 74.48,64.4 74.99,72.13 75.5,79.35 76.02,86.06 76.53,92.27 77.04,97.98 77.55,103.19 78.06,107.9 78.57,112.12 79.08,115.84 79.59,119.08 80.1,121.82 80.61,124.07 81.12,123.32 81.64,122.5 82.15,121.61 82.66,120.67 83.17,119.66 83.68,118.59 84.19,117.45 84.7,116.25 85.21,119.84 85.72,122.79 86.23,125.11 86.74,126.78 87.25,127.81 87.76,128.21 88.28,127.97 88.79,127.1 89.3,125.59 89.5,124.81 89.81,125.96 90.32,127.35 90.83,128.09 91.34,128.17 91.85,127.59 92.36,126.36 92.87,124.47 93.38,121.92 93.9,120.78 94.41,119.56 94.92,118.24 95.43,116.83 95.94,115.32 96.45,113.72 96.96,112.02 97.47,110.23 97.98,108.35 98.49,111.5 99,114.37 99.51,116.98 100.03,119.31 100.54,116.52 101.05,113.35 101.56,109.8 102.07,105.87 102.58,101.55 103.09,96.84 103.6,100 104.11,102.99 104.62,105.82 105.13,108.47 105.64,110.95 106.16,113.27 106.67,115.41 107.18,117.39 107.69,119.21 108.2,120.85 108.71,122.33 109.22,123.65 109.73,124.79 110.24,125.78 110.75,123.95 111.26,121.61 111.77,118.77 112.28,115.41 112.8,111.54 113.31,107.15 113.82,102.25 114.33,96.83 114.84,90.89 115.35,84.42 115.86,77.43 116.37,69.91 116.88,61.87 117.39,53.29 117.9,44.18 118.21,38.47 118.42,42.62 118.93,52.55 119.44,61.87 119.95,70.56 120.46,78.63 120.97,86.09 121.48,92.93 121.99,99.15 122.5,104.77 123.01,109.77 123.52,114.18 124.03,117.98 124.55,121.17 125.06,123.77 125.57,125.78 126.08,125.26 126.59,124.69 127.1,124.07 127.61,123.4 128.12,122.68 128.63,121.92 129.14,121.1 129.65,120.23 130.16,119.31 130.68,118.34 131.19,117.32 131.7,116.25 132.21,112.97 132.72,109.29 133.23,105.21 133.74,100.72 134.25,95.83 134.76,90.54 135.27,84.84 135.78,78.73 136.29,84.24 136.81,89.42 137.32,94.28 137.83,98.8 138.34,103 138.85,106.87 139.36,110.42 139.87,113.64 140.38,116.54 140.89,119.11 141.4,121.37 141.91,123.3 142.42,124.91 142.94,126.2 143.45,127.18 143.6,127.41 143.96,127.69 144.47,127.99 144.98,128.16 145.49,128.22 146,128.14 146.51,127.95 147.02,127.63 147.53,127.19 148.04,126.62 148.55,125.93 149.06,125.12 149.58,124.18 150.09,123.12 150.6,121.94 150.8,121.43 151.11,123.64 151.62,126.36 152.13,127.87 152.64,128.18 153.15,127.3 153.66,125.21 154.17,121.92 154.68,119.66 155.2,117.05 155.71,114.09 156.22,110.79 156.73,107.13 157.24,103.12 157.75,98.76 158.26,94.05 158.72,89.5 158.77,90.2 159.28,96.76 159.79,102.7 160.3,108.01 160.81,112.7 161.33,116.76 161.84,120.21 162.35,123.04 162.86,125.25 163.37,126.85 163.88,127.84 164.39,127.52 164.9,127.1 165.41,126.58 165.92,125.97 166.43,125.26 166.94,124.45 167.46,123.54 167.97,122.53 168.48,121.43 168.99,120.23 169.5,118.93 170.01,117.53 170.52,116.03 171.03,114.43 171.54,112.74 172.05,114.2 172.56,115.58 173.07,116.9 173.59,118.14 174.1,119.31 174.61,120.41 175.12,121.43 175.63,122.38 176.14,123.26 176.65,124.07 177.16,124.81 177.67,125.47 178.18,126.06 178.69,126.58 179.2,127.03 179.72,126.58 180.23,126.06 180.74,125.47 181.25,124.81 181.76,124.07 182.27,123.26 182.78,122.38 183.29,121.43 183.8,120.41 184.31,119.31 184.82,118.14 185.33,116.9 185.85,115.58 186.36,114.2 186.87,112.74 187.38,114.2 187.89,115.58 188.4,116.9 188.91,118.14 189.42,119.31 189.93,120.41 190.44,121.43 190.95,122.38 191.46,123.26 191.97,124.07 192.49,124.81 193,125.47 193.51,126.06 194.02,126.58 194.53,127.03 195.04,125.75 195.55,124.02 196.06,121.81 196.57,119.15 197.08,116.01 197.59,112.41 198.11,108.35 198.62,103.81 199.13,98.8 199.64,93.31 200.15,87.35 200.66,80.91 201.17,74 201.68,66.6 202.04,61.13 202.19,64.48 202.7,74.99 203.21,84.54 203.72,93.13 204.24,100.77 204.75,107.47 205.26,113.22 205.77,118.03 206.28,121.92 206.79,117.82 207.3,112.69 207.81,106.53 208.32,99.33 208.83,91.09 209.34,81.8 209.85,71.45 210.37,60.04 210.88,47.56 211.39,34.02 211.9,19.42 212.1,13.28 212.41,24.77 212.92,42.56 213.43,58.65 213.94,73.05 214.45,85.75 214.96,96.77 215.47,106.12 215.98,113.81 216.5,119.85 217.01,124.26 217.52,127.03 218.03,124.85 218.54,121.56 219.05,117.16 219.56,111.63 220.07,104.97 220.58,97.18 221.09,88.24 221.6,78.16 222.11,66.93 222.42,59.63 222.62,63.58 223.14,72.93 223.65,81.53 224.16,89.4 224.67,96.53 225.18,102.93 225.69,108.61 226.2,113.55 226.71,117.78 227.22,121.28 227.73,124.07 228.24,123.68 228.76,123.26 229.27,122.83 229.78,122.38 230.29,121.92 230.8,121.43 231.31,120.93 231.82,120.41 232.33,119.87 232.84,119.31 233.35,118.73 233.86,118.14 234.37,117.53 234.89,116.9 235.4,116.25 235.91,117.53 236.42,118.73 236.93,119.87 237.44,120.93 237.95,121.92 238.46,122.83 238.97,123.68 239.48,124.45 239.99,125.15 240.5,125.78 241.02,126.33 241.53,126.82 242.04,127.23 242.55,127.57 243.06,127.84 243.57,127.57 244.08,127.23 244.59,126.82 245.1,126.33 245.61,125.78 246.12,125.15 246.63,124.45 247.15,123.68 247.66,122.83 248.17,121.92 248.68,120.93 249.19,119.87 249.7,118.73 250.21,117.53 250.72,116.25 251.23,117.24 251.74,118.19 252.25,119.09 252.76,119.95 253.28,120.77 253.79,121.54 254.3,122.28 254.81,122.97 255.32,123.61 255.83,124.22 256.34,124.78 256.85,125.3 257.36,125.78 257.87,123.41 258.38,120.24 258.89,116.27 259.41,111.5 259.92,105.93 260.43,99.54 260.94,92.33 261.45,84.3 261.96,75.46 262.47,65.78 262.98,55.28 263.49,43.94 264,50.83 264.51,57.42 265.02,63.71 265.54,69.71 266.05,75.4 266.56,80.8 267.07,85.91 267.58,90.72 268.09,95.24 268.6,99.46" fill="none" stroke="#e06478" stroke-width="1.5" stroke-linejoin="round" opacity="1.0"/>
<polyline points="23.4,99.46 23.91,102.05 24.42,104.52 24.93,106.86 25.44,109.08 25.95,111.18 26.46,113.16 26.98,115.01 27.49,116.74 28,118.35 28.51,119.84 28.81,120.67 29.02,121.18 29.53,122.37 30.04,123.45 30.55,124.42 31.06,125.28 31.57,126.03 32.08,126.67 32.59,127.2 33.11,127.62 33.62,127.93 34.13,128.12 34.64,128.21 35.15,128.19 35.3,128.16 35.66,128.12 36.17,128.03 36.68,127.92 37.19,127.78 37.7,127.61 38.21,127.42 38.73,127.19 39.24,126.95 39.75,126.67 40.26,126.37 40.77,126.05 41.28,125.69 41.79,125.31 42.3,126.48 42.81,127.35 43.32,127.92 43.83,128.19 44.34,128.16 44.86,127.84 45.37,127.32 45.88,126.58 46.39,125.63 46.9,124.45 47.41,123.05 47.92,121.43 48.43,119.59 48.94,117.53 49.45,115.24 49.96,112.74 50.47,114.55 50.98,116.25 51.5,117.84 52.01,119.31 52.52,120.67 53.03,121.92 53.54,123.05 54.05,124.07 54.56,124.98 55.07,125.78 55.58,126.46 56.09,127.03 56.6,127.49 57.12,127.84 57.63,128.07 58.14,128.2 58.65,127.99 59.16,127.57 59.67,126.93 60.18,126.06 60.69,124.98 61.2,123.68 61.71,122.15 62.22,120.41 62.73,118.44 63.25,116.25 63.76,117.27 64.27,118.25 64.78,119.18 65.29,120.06 65.8,120.9 66.31,121.7 66.82,122.44 67.33,123.15 67.84,123.8 68.35,124.41 68.86,124.98 69.38,125.5 69.89,125.97 70.4,126.4 70.91,126.79 71.42,127.12 71.93,127.42 72.44,127.66 72.95,127.86 73.46,128.02 73.97,128.13 74.48,128.2 74.99,127.77 75.5,126.8 76.02,125.29 76.53,123.22 77.04,120.6 77.55,117.43 78.06,113.71 78.57,109.43 79.08,104.59 79.59,99.19 80.1,93.23 80.61,86.71 81.12,79.61 81.64,71.95 82.15,63.72 82.66,54.91 83.17,45.53 83.68,35.58 84.19,25.06 84.29,22.88 84.7,29.33 85.21,37.1 85.72,44.54 86.23,51.66 86.74,58.46 87.25,64.94 87.76,71.1 88.28,76.94 88.79,82.46 89.3,87.66 89.81,92.54 90.32,97.11 90.83,101.35 91.34,105.29 91.85,108.91 92.36,112.21 92.87,115.2 93.38,117.89 93.9,120.26 94.41,122.32 94.92,124.07 95.43,124.45 95.94,124.81 96.45,125.15 96.96,125.47 97.47,125.78 97.98,126.06 98.49,126.33 99,126.58 99.51,126.82 100.03,127.03 100.54,127.23 101.05,127.41 101.56,127.57 102.07,127.71 102.58,127.84 103.09,127.95 103.6,128.04 104.11,128.11 104.62,128.16 105.13,128.2 105.64,128.14 106.16,128.06 106.67,127.95 107.18,127.8 107.69,127.62 108.2,127.41 108.71,127.16 109.22,126.89 109.73,126.58 110.24,126.24 110.75,125.87 111.26,125.47 111.77,125.04 112.28,124.57 112.8,124.07 113.31,124.95 113.82,125.73 114.33,126.4 114.84,126.97 115.35,127.43 115.86,127.78 116.37,128.03 116.88,128.18 117.39,128.22 117.9,128.15 118.42,127.98 118.93,127.7 119.44,127.31 119.74,127.03 119.95,127.36 120.46,127.96 120.97,128.21 121.48,128.11 121.99,127.68 122.5,126.9 123.01,125.78 123.52,123.94 124.03,121.6 124.55,118.75 125.06,115.38 125.57,111.5 126.08,107.1 126.59,102.18 127.1,96.73 127.61,90.77 128.12,84.28 128.63,77.26 129.14,69.72 129.65,61.64 130.16,53.03 130.68,43.89 131.19,34.21 131.49,28.15 131.7,31.41 132.21,39.31 132.72,46.87 133.23,54.09 133.74,60.97 134.25,67.51 134.76,73.71 135.27,79.57 135.78,85.09 136.29,90.28 136.81,95.12 137.32,99.64 137.83,103.81 138.34,107.66 138.85,111.17 139.36,114.35 139.87,117.2 140.38,119.72 140.89,121.92 141.4,122.38 141.91,122.83 142.42,123.26 142.94,123.68 143.45,124.07 143.96,124.45 144.47,124.81 144.98,125.15 145.49,125.47 146,125.78 146.51,126.06 147.02,126.33 147.53,126.58 148.04,126.82 148.55,127.03 149.06,127.23 149.58,127.41 150.09,127.57 150.6,127.71 151.11,127.84 151.62,127.71 152.13,127.57 152.64,127.41 153.15,127.23 153.66,127.03 154.17,126.82 154.68,126.58 155.2,126.33 155.71,126.06 156.22,125.78 156.73,125.47 157.24,125.15 157.75,124.81 158.26,124.45 158.77,124.07 159.28,123.68 159.79,123.26 160.3,122.83 160.81,122.38 161.33,121.92 161.84,122.92 162.35,123.84 162.86,124.67 163.37,125.41 163.88,126.06 164.39,126.63 164.9,127.11 165.41,127.51 165.92,127.81 166.43,128.04 166.94,128.17 167.46,128.22 167.97,128.18 168.48,128.05 168.99,127.84 169.5,127.54 170.01,127.15 170.52,126.68 171.03,126.12 171.54,125.47 172.05,124.74 172.56,123.91 173.07,123.01 173.59,122.01 174.1,120.93 174.61,122.83 175.12,124.45 175.63,125.78 176.14,126.82 176.65,127.57 177.16,128.04 177.67,128.21 178.18,128.11 178.69,127.71 179.2,127.03 179.72,127.75 180.23,128.14 180.74,128.2 181.25,127.92 181.76,127.31 182.27,126.37 182.78,125.1 183.29,123.49 183.8,121.54 184.31,119.27 184.82,116.65 185.33,113.7 185.85,110.41 186.36,113.96 186.87,117.11 187.38,119.87 187.89,122.23 188.4,124.2 188.91,125.78 189.42,126.96 189.93,127.76 190.44,128.16 190.95,128.17 191.46,127.8 191.97,127.03 192.49,126.66 193,126.24 193.51,125.78 194.02,125.26 194.53,124.69 195.04,124.07 195.55,123.4 196.06,122.68 196.57,121.92 197.08,121.1 197.59,120.23 198.11,119.31 198.62,118.34 199.13,117.32 199.64,116.25 200.15,117.11 200.66,117.94 201.17,118.73 201.68,119.5 202.19,120.23 202.7,120.93 203.21,121.59 203.72,122.23 204.24,122.83 204.75,123.4 205.26,123.94 205.77,124.45 206.28,124.92 206.79,125.36 207.3,125.78 207.81,125.39 208.32,124.98 208.83,124.54 209.34,124.07 209.85,123.57 210.37,123.05 210.88,122.5 211.39,121.92 211.9,121.31 212.41,120.67 212.92,120 213.43,119.31 213.94,121.87 214.45,124 214.96,125.7 215.47,126.96 215.98,127.79 216.5,128.18 217.01,128.14 217.52,127.67 218.03,126.76 218.54,125.42 219.05,123.65 219.56,121.44 220.07,118.8 220.58,115.71 221.09,112.19 221.6,108.23 222.11,103.83 222.42,100.97 222.62,103.64 223.14,109.7 223.65,114.9 224.16,119.24 224.67,122.72 225.18,125.35 225.69,127.13 226.2,128.06 226.71,128.15 227.22,127.39 227.73,125.78 228.24,125.97 228.76,126.15 229.27,126.33 229.78,126.5 230.29,126.66 230.8,126.82 231.31,126.96 231.82,127.1 232.33,127.23 232.84,127.35 233.35,127.46 233.86,127.57 234.37,127.67 234.89,127.76 235.4,127.84 235.91,127.71 236.42,127.57 236.93,127.41 237.44,127.23 237.95,127.03 238.46,126.82 238.97,126.58 239.48,126.33 239.99,126.06 240.5,125.78 241.02,125.47 241.53,125.15 242.04,124.81 242.55,124.45 243.06,124.07 243.57,123.05 244.08,121.92 244.59,120.67 245.1,119.31 245.61,117.84 246.12,116.25 246.63,114.55 247.15,112.74 247.66,115.13 248.17,117.32 248.68,119.31 249.19,121.1 249.7,122.68 250.21,124.07 250.72,125.26 251.23,126.24 251.74,127.03 252.25,127.45 252.76,127.78 253.28,128.01 253.79,128.16 254.3,128.22 254.81,128.18 255.32,128.06 255.83,127.84 256.34,127.53 256.85,127.14 257.36,126.65 257.87,126.07 258.38,125.4 258.89,124.64 259.41,123.79 259.92,122.85 260.43,121.82 260.84,120.93 260.94,120.89 261.45,120.71 261.96,120.53 262.47,120.35 262.98,120.16 263.49,119.97 264,119.78 264.51,119.59 265.02,121.09 265.54,122.44 266.05,123.65 266.56,124.72 267.07,125.64 267.58,126.43 268.09,127.07 268.6,127.57" fill="none" stroke="#b02a9e" stroke-width="1.5" stroke-linejoin="round" stroke-dasharray="2.0,1.4" opacity="1.0"/>
<polyline points="23.4,88.31 23.91,94.27 24.42,99.75 24.93,104.75 25.44,109.25 25.95,113.27 26.46,116.81 26.92,119.59 26.98,119.79 27.49,121.66 28,123.29 28.51,124.69 29.02,125.86 29.53,126.79 30.04,127.49 30.55,127.81 31.06,128.03 31.57,128.17 32.08,128.22 32.59,128.17 33.11,128.04 33.62,127.81 34.03,127.57 34.13,127.53 34.64,127.33 35.15,127.11 35.66,126.85 36.17,126.58 36.68,126.27 37.19,125.95 37.7,125.59 38.21,125.21 38.73,124.81 39.24,124.58 39.75,124.34 40.26,124.1 40.77,123.85 41.28,123.59 41.79,123.32 42.3,123.05 42.81,122.77 43.32,122.48 43.83,122.19 44.29,121.92 44.34,122.05 44.86,123.32 45.37,124.45 45.88,125.43 46.39,126.26 46.9,126.94 47.41,127.48 47.51,127.57 47.92,128.16 48.43,128.01 48.94,126.9 49.45,124.8 49.96,121.73 50.47,117.68 50.98,112.64 51.5,106.61 52.01,109.86 52.52,112.84 53.03,115.56 53.54,118.01 54.05,120.2 54.56,122.12 55.07,123.78 55.58,125.17 56.09,126.3 56.6,127.17 57.12,127.78 57.63,128.13 58.14,128.21 58.65,128.03 59.16,127.6 59.52,127.13 59.67,127.55 60.18,128.21 60.69,127.77 61.2,126.22 61.71,123.56 62.22,119.79 62.73,114.9 63.09,110.81 63.25,111.38 63.76,113.2 64.27,114.93 64.78,116.54 65.29,118.05 65.8,119.46 66.31,120.76 66.82,121.95 67.33,123.04 67.84,124.03 68.35,124.91 68.86,125.69 69.38,126.36 69.89,126.93 70.4,127.4 70.91,127.76 71.42,128.01 71.93,128.17 72.44,128.22 72.95,128.16 73.46,128 73.97,127.74 74.23,127.57 74.48,128.01 74.99,128.16 75.5,127.37 76.02,125.62 76.53,122.92 77.04,119.25 77.55,114.63 78.06,109.04 78.57,102.47 79.08,94.93 79.59,86.41 80.1,76.9 80.61,66.4 81.12,54.9 81.64,42.41 82.15,28.91 82.4,21.79 82.66,27.65 83.17,38.86 83.68,49.39 84.19,59.26 84.7,68.45 85.21,76.98 85.72,84.84 86.23,92.04 86.74,98.58 87.25,104.45 87.76,109.68 88.28,114.25 88.79,118.17 89.3,121.44 89.81,124.07 90.32,123.68 90.83,123.26 91.34,122.83 91.85,122.38 92.36,121.92 92.87,121.43 93.38,120.93 93.9,120.41 94.41,119.87 94.92,119.31 95.43,118.73 95.94,118.14 96.45,117.53 96.96,116.9 97.47,116.25 97.98,117.53 98.49,118.73 99,119.87 99.51,120.93 100.03,121.92 100.54,122.83 101.05,123.68 101.56,124.45 102.07,125.15 102.58,125.78 103.09,126.33 103.6,126.82 104.11,127.23 104.62,127.57 105.13,127.84 105.64,127.67 106.16,127.46 106.67,127.23 107.18,126.96 107.69,126.66 108.2,126.33 108.71,125.97 109.22,125.57 109.73,125.15 110.24,124.69 110.75,124.2 111.26,123.68 111.77,123.12 112.28,122.53 112.8,121.92 113.31,122.53 113.82,123.12 114.33,123.68 114.84,124.2 115.35,124.69 115.86,125.15 116.37,125.57 116.88,125.97 117.39,126.33 117.9,126.66 118.42,126.96 118.93,127.23 119.44,127.46 119.95,127.67 120.46,127.84 120.97,126.47 121.48,124.11 121.99,120.74 122.5,116.38 123.01,111 123.52,104.61 124.03,97.2 124.55,88.77 125.06,79.3 125.57,68.8 126.08,57.27 126.59,44.69 127.1,31.06 127.41,22.39 127.61,25.33 128.12,32.49 128.63,39.39 129.14,46.03 129.65,52.4 130.16,58.52 130.68,64.37 131.19,69.97 131.7,75.3 132.21,77.88 132.72,80.4 133.23,82.84 133.74,85.23 134.25,87.55 134.76,89.8 135.27,91.99 135.78,94.11 136.29,96.17 136.81,98.17 137.32,100.09 137.83,101.96 138.34,103.76 138.85,105.49 139.36,107.16 139.87,108.77 140.38,110.41 140.89,111.98 141.4,113.48 141.91,114.9 142.42,116.25 142.94,117.53 143.45,118.73 143.96,119.87 144.47,120.93 144.98,121.92 145.49,119.56 146,116.83 146.51,113.73 147.02,110.24 147.53,106.38 148.04,102.14 148.4,98.94 148.55,100.15 149.06,103.98 149.58,107.53 150.09,110.79 150.6,113.77 151.11,116.47 151.62,118.89 152.13,121.03 152.64,122.89 153.15,124.47 153.66,125.78 154.17,124.44 154.68,122.82 155.2,120.91 155.71,118.7 156.22,116.21 156.73,113.42 157.24,110.34 157.75,106.96 158.26,103.29 158.77,99.32 159.28,95.06 159.79,90.5 160.3,85.64 160.81,80.48 161.33,75.02 161.43,73.9 161.84,78.82 162.35,84.63 162.86,90.08 163.37,95.16 163.88,99.87 164.39,104.22 164.9,108.2 165.41,111.81 165.92,115.07 166.43,117.96 166.94,120.49 167.46,122.66 167.97,124.48 168.48,125.93 168.99,127.03 169.5,126.17 170.01,125.07 170.52,123.73 171.03,122.16 171.54,120.35 172.05,118.31 172.56,116.03 173.07,113.51 173.59,110.75 174.1,107.75 174.61,104.52 175.12,101.04 175.63,97.32 175.83,95.77 176.14,97.64 176.65,100.65 177.16,103.49 177.67,106.18 178.18,108.72 178.69,111.1 179.2,113.32 179.72,115.38 180.23,117.29 180.74,119.05 181.25,120.65 181.76,122.1 182.27,123.39 182.78,124.53 183.29,125.52 183.8,126.35 184.31,127.03 184.82,126.54 185.33,125.96 185.85,125.3 186.36,124.55 186.87,123.71 187.38,122.79 187.89,121.79 188.4,120.69 188.91,119.52 189.42,118.25 189.93,116.9 190.44,115.46 190.95,113.94 191.46,112.33 191.97,110.63 192.49,108.85 193,106.98 193.51,105.02 194.02,102.98 194.53,100.84 194.73,99.97 195.04,102.25 195.55,105.84 196.06,109.16 196.57,112.22 197.08,115 197.59,117.52 198.11,119.77 198.62,121.75 199.13,123.47 199.64,124.92 200.15,126.11 200.66,127.03 201.17,125.39 201.68,123.05 202.19,120 202.7,116.24 203.21,111.77 203.72,106.59 204.24,100.69 204.75,94.08 205.26,86.74 205.77,78.67 206.28,69.88 206.79,60.35 207.1,54.28 207.3,57.9 207.81,66.55 208.32,74.62 208.83,82.12 209.34,89.04 209.85,95.4 210.37,101.18 210.88,106.4 211.39,111.05 211.9,115.14 212.41,118.68 212.92,121.65 213.43,124.07 213.94,125.56 214.45,126.72 214.96,127.55 215.47,128.05 215.98,128.22 216.5,128.06 217.01,127.57 217.52,126.75 218.03,125.6 218.54,124.13 219.05,122.32 219.56,120.18 220.07,117.7 220.58,114.9 221.09,119.12 221.6,122.53 222.11,125.15 222.62,126.96 223.14,127.98 223.65,128.2 224.16,127.62 224.67,126.24 225.18,124.07 225.69,122.76 226.2,121.26 226.71,119.59 227.22,117.73 227.73,115.7 228.24,113.48 228.76,111.07 229.27,108.49 229.78,105.72 230.29,102.77 230.8,99.63 231.31,96.31 231.82,92.8 232.33,89.11 232.84,85.23 233.35,89.5 233.86,93.55 234.37,97.38 234.89,100.97 235.4,104.34 235.91,107.49 236.42,110.41 236.93,113.11 237.44,115.58 237.95,117.84 238.46,119.87 238.97,121.68 239.48,123.26 239.99,124.63 240.5,125.78 241.02,124.33 241.53,122.54 242.04,120.42 242.55,117.97 243.06,115.17 243.57,112.03 244.08,108.56 244.59,104.74 245.1,100.58 245.61,96.08 246.12,91.23 246.63,86.03 247.15,80.49 247.66,74.6 248.17,79.77 248.68,84.68 249.19,89.32 249.7,93.69 250.21,97.8 250.72,101.65 251.23,105.24 251.74,108.56 252.25,111.62 252.76,114.42 253.28,116.96 253.79,119.24 254.3,121.26 254.81,123.02 255.32,124.53 255.83,125.78 256.34,126.06 256.85,126.33 257.36,126.58 257.87,126.82 258.38,127.03 258.89,127.23 259.41,127.41 259.92,127.57 260.43,127.71 260.94,127.84 261.45,128.07 261.96,128.2 262.47,128.21 262.98,128.11 263.49,127.89 264,127.57 264.51,127.13 264.72,126.93 265.02,128.07 265.54,127.48 266.05,123.77 266.56,116.93 267.07,106.93 267.58,93.76 268.09,77.37 268.6,82.04" fill="none" stroke="#a23d76" stroke-width="1.5" stroke-linejoin="round" opacity="1.0"/>
</g>
<rect x="23.4" y="6.3" width="245.2" height="133" fill="none" stroke="#d4d4d4" stroke-width="1"/>
<line x1="23.4" y1="139.3" x2="23.4" y2="136.9" stroke="#b8b8b8" stroke-width="0.8"/>
<line x1="23.4" y1="6.3" x2="23.4" y2="8.7" stroke="#b8b8b8" stroke-width="0.8"/>
<line x1="48.94" y1="139.3" x2="48.94" y2="136.9" stroke="#b8b8b8" stroke-width="0.8"/>
<line x1="48.94" y1="6.3" x2="48.94" y2="8.7" stroke="#b8b8b8" stroke-width="0.8"/>
<line x1="74.48" y1="139.3" x2="74.48" y2="136.9" stroke="#b8b8b8" stroke-width="0.8"/>
<line x1="74.48" y1="6.3" x2="74.48" y2="8.7" stroke="#b8b8b8" stroke-width="0.8"/>
<line x1="100.03" y1="139.3" x2="100.03" y2="136.9" stroke="#b8b8b8" stroke-width="0.8"/>
<line x1="100.03" y1="6.3" x2="100.03" y2="8.7" stroke="#b8b8b8" stroke-width="0.8"/>
<line x1="125.57" y1="139.3" x2="125.57" y2="136.9" stroke="#b8b8b8" stroke-width="0.8"/>
<line x1="125.57" y1="6.3" x2="125.57" y2="8.7" stroke="#b8b8b8" stroke-width="0.8"/>
<line x1="151.11" y1="139.3" x2="151.11" y2="136.9" stroke="#b8b8b8" stroke-width="0.8"/>
<line x1="151.11" y1="6.3" x2="151.11" y2="8.7" stroke="#b8b8b8" stroke-width="0.8"/>
<line x1="176.65" y1="139.3" x2="176.65" y2="136.9" stroke="#b8b8b8" stroke-width="0.8"/>
<line x1="176.65" y1="6.3" x2="176.65" y2="8.7" stroke="#b8b8b8" stroke-width="0.8"/>
<line x1="202.19" y1="139.3" x2="202.19" y2="136.9" stroke="#b8b8b8" stroke-width="0.8"/>
<line x1="202.19" y1="6.3" x2="202.19" y2="8.7" stroke="#b8b8b8" stroke-width="0.8"/>
<line x1="227.73" y1="139.3" x2="227.73" y2="136.9" stroke="#b8b8b8" stroke-width="0.8"/>
<line x1="227.73" y1="6.3" x2="227.73" y2="8.7" stroke="#b8b8b8" stroke-width="0.8"/>
<line x1="253.28" y1="139.3" x2="253.28" y2="136.9" stroke="#b8b8b8" stroke-width="0.8"/>
<line x1="253.28" y1="6.3" x2="253.28" y2="8.7" stroke="#b8b8b8" stroke-width="0.8"/>
<line x1="23.4" y1="139.3" x2="25.8" y2="139.3" stroke="#b8b8b8" stroke-width="0.8"/>
<line x1="268.6" y1="139.3" x2="266.2" y2="139.3" stroke="#b8b8b8" stroke-width="0.8"/>
<line x1="23.4" y1="117.13" x2="25.8" y2="117.13" stroke="#b8b8b8" stroke-width="0.8"/>
<line x1="268.6" y1="117.13" x2="266.2" y2="117.13" stroke="#b8b8b8" stroke-width="0.8"/>
<line x1="23.4" y1="94.97" x2="25.8" y2="94.97" stroke="#b8b8b8" stroke-width="0.8"/>
<line x1="268.6" y1="94.97" x2="266.2" y2="94.97" stroke="#b8b8b8" stroke-width="0.8"/>
<line x1="23.4" y1="72.8" x2="25.8" y2="72.8" stroke="#b8b8b8" stroke-width="0.8"/>
<line x1="268.6" y1="72.8" x2="266.2" y2="72.8" stroke="#b8b8b8" stroke-width="0.8"/>
<line x1="23.4" y1="50.63" x2="25.8" y2="50.63" stroke="#b8b8b8" stroke-width="0.8"/>
<line x1="268.6" y1="50.63" x2="266.2" y2="50.63" stroke="#b8b8b8" stroke-width="0.8"/>
<line x1="23.4" y1="28.47" x2="25.8" y2="28.47" stroke="#b8b8b8" stroke-width="0.8"/>
<line x1="268.6" y1="28.47" x2="266.2" y2="28.47" stroke="#b8b8b8" stroke-width="0.8"/>
<line x1="23.4" y1="6.3" x2="25.8" y2="6.3" stroke="#b8b8b8" stroke-width="0.8"/>
<line x1="268.6" y1="6.3" x2="266.2" y2="6.3" stroke="#b8b8b8" stroke-width="0.8"/>
<g clip-path="url(#cr)">
<polyline points="301.7,62.82 305.79,72.8 310.38,90.42 313.6,79.12 328.01,40.55 330.82,62.82 332.86,76.13 336.44,63.49 341.03,73.8 355.34,39.88 357.64,36.56 359.68,59.5 361.47,65.49 367.6,46.2 371.68,52.85 383.43,34.89 386.7,51.85 388.03,72.8 392.63,62.82 398.76,91.09 403.87,62.82 409.28,42.21 416.13,66.15 420.62,53.85 430.94,24.92 436.05,10.96 439.11,25.92 440.39,22.93 442.69,39.22 449.84,10.96 453.42,49.86 459.91,20.27 467.21,47.2 475.38,15.28 480.34,50.52 488.1,12.95 495,51.19 511.04,21.26 519.62,61.16 524.93,69.47 529.02,59.5 532.6,65.15 545.62,29.91 546.9,28.25" fill="none" stroke="#33299c" stroke-width="1.5" stroke-linejoin="round" opacity="1.0"/>
<polyline points="301.7,99.4 302.57,95.08 307.83,69.47 314.47,82.78 322.13,76.13 328.01,57.17 332.71,114.63 336.44,82.78 341.29,105.42 346.65,76.13 350.48,68.48 357.89,59.5 366.37,52.18 382.41,49.19 389.21,116.62 392.63,86.1 395.18,106.05 401.31,62.82 406.42,76.13 413.21,114.63 420.21,62.82 426.85,72.8 433.39,45.2 449.43,29.24 454.95,62.82 465.01,101.1 472.83,56.18 477.94,69.47 484.58,46.2 491.73,72.8 498.37,52.85 506.54,95.41 512.16,59.5 517.02,46.86 520.34,98.4 525.44,62.82 531.52,114.43 537.7,66.15 542.81,79.45 546.9,69.47" fill="none" stroke="#16803a" stroke-width="1.5" stroke-linejoin="round" opacity="1.0"/>
<polyline points="301.7,86.1 307.01,109.91 314.47,62.82 322.13,82.78 328.26,66.15 333.63,49.19 335.93,39.55 338.79,33.57 342.57,26.92 347.68,21.26 349.21,52.85 361.88,97.4 368.11,59.5 375.77,76.13 383.43,52.85 394.16,42.88 398.76,66.15 407.19,95.41 414.08,56.18 421.75,72.8 429.41,52.85 437.07,76.13 444.73,56.18 452.4,72.8 460.06,52.85 467.72,76.13 475.38,56.18 483.05,72.8 490.71,52.85 498.37,76.13 506.44,34.89 511.14,62.82 515.74,96.41 522.38,59.5 529.02,72.8 537.81,40.55 541.79,86.1 546.9,69.47" fill="none" stroke="#5cc0b0" stroke-width="1.5" stroke-linejoin="round" opacity="1.0"/>
<polyline points="301.7,76.13 305.99,113 311.92,62.82 316.31,43.87 320.19,72.8 324.69,62.82 331.02,49.19 333.88,36.22 337.46,26.92 342.57,21.26 347.32,17.27 349.92,49.19 359.42,99.4 360.96,97.74 365.55,62.82 370.66,46.2 375.77,72.8 383.43,49.53 391.1,72.8 398.76,52.85 407.19,92.75 414.08,59.5 423.13,87.76 428.39,56.18 433.6,99.07 439.62,59.5 447.29,72.8 454.95,52.85 462.61,72.8 470.27,56.18 477.94,72.8 483.05,52.85 489.43,102.09 494.79,59.5 500.92,97.4 506.03,62.82 511.14,97.4 516.25,59.5 522.38,72.8 526.47,59.5 531.58,101.06 536.68,62.82 541.54,112.7 546.9,72.8" fill="none" stroke="#a0dcf2" stroke-width="1.5" stroke-linejoin="round" opacity="1.0"/>
<polyline points="301.7,72.8 309.36,52.85 317.02,76.13 324.69,49.53 332.35,69.47 342.57,86.1 350.23,56.18 357.89,72.8 367.09,39.55 373.22,66.15 380.88,49.53 388.54,72.8 396.2,52.85 403.36,92.08 411.53,62.82 418.17,57.5 425.83,27.58 430.94,57.5 437.07,72.8 444.73,52.85 452.4,72.8 458.53,30.57 465.17,62.82 472.83,46.2 480.49,69.47 490.4,97.4 491.73,99.73 498.37,56.18 503.48,72.8 511.14,52.85 515.64,54.85 521.51,31.24 525.96,54.85 531.32,31.24 537.7,62.82 541.79,95.41 546.9,62.82" fill="none" stroke="#f0d88a" stroke-width="1.5" stroke-linejoin="round" opacity="1.0"/>
<polyline points="301.7,82.78 303.23,76.13 310.13,39.55 311.71,39.88 314.47,69.47 320.09,104.25 327.24,56.18 331.33,76.13 337.2,41.88 347.98,63.49 352.27,107.81 358.91,62.82 363,72.8 367.8,35.56 371.68,66.15 376.28,79.78 378.32,69.47 381.39,87.76 388.54,59.5 396.51,114.63 403.87,59.5 410,72.8 414.08,97.74 421.9,54.85 429.1,30.24 432.47,66.15 437.02,92.08 442.18,52.85 449.84,76.13 457.5,56.18 465.17,76.13 472.83,56.18 480.34,105.75 484.58,66.15 490.4,123.24 495.82,56.18 500.72,106.38 506.03,62.82 513.7,72.8 521.36,52.85 529.02,72.8 535.66,59.5 541.79,112.6 546.9,86.1" fill="none" stroke="#e06478" stroke-width="1.5" stroke-linejoin="round" opacity="1.0"/>
<polyline points="301.7,86.1 307.11,67.81 313.6,46.86 320.09,36.56 323.15,52.85 328.26,76.13 336.44,49.53 341.54,72.8 352.78,49.53 362.59,120.08 373.22,62.82 383.43,49.53 391.1,62.82 398.04,40.88 401.31,59.5 409.79,118.29 419.19,66.15 429.41,52.85 439.62,66.15 452.4,29.57 457.5,56.18 464.14,18.93 470.27,56.18 477.94,72.8 485.6,59.5 491.73,69.47 500.72,11.95 506.03,59.5 513.7,52.85 521.36,62.82 525.44,76.13 530.04,56.18 539.14,29.57 542.81,27.91 546.9,42.88" fill="none" stroke="#b02a9e" stroke-width="1.5" stroke-linejoin="round" stroke-dasharray="2.0,1.4" opacity="1.0"/>
<polyline points="301.7,92.75 305.22,69.14 308.34,54.51 312.33,42.88 317.02,35.56 322.59,30.9 325.81,42.88 329.8,81.11 337.82,41.21 341.39,77.79 352.53,42.88 360.7,120.45 368.11,62.82 375.77,72.8 383.43,52.85 391.1,66.15 398.76,52.85 405.71,120.25 410,99.4 418.17,79.45 423.28,66.15 426.7,86.43 431.96,59.5 439.73,100.07 447.29,56.18 454.13,88.43 462.61,56.18 473.03,85.77 478.96,56.18 485.4,108.58 491.73,62.82 498.88,22.93 503.48,62.82 511.14,94.41 518.8,59.5 525.96,99.73 534.13,59.5 539.24,52.85 543.02,40.55 546.39,98.4 546.9,96.07" fill="none" stroke="#a33a72" stroke-width="1.5" stroke-linejoin="round" opacity="1.0"/>
</g>
<rect x="301.7" y="6.3" width="245.2" height="133" fill="none" stroke="#d4d4d4" stroke-width="1"/>
<line x1="301.7" y1="139.3" x2="301.7" y2="136.9" stroke="#b8b8b8" stroke-width="0.8"/>
<line x1="301.7" y1="6.3" x2="301.7" y2="8.7" stroke="#b8b8b8" stroke-width="0.8"/>
<line x1="327.24" y1="139.3" x2="327.24" y2="136.9" stroke="#b8b8b8" stroke-width="0.8"/>
<line x1="327.24" y1="6.3" x2="327.24" y2="8.7" stroke="#b8b8b8" stroke-width="0.8"/>
<line x1="352.78" y1="139.3" x2="352.78" y2="136.9" stroke="#b8b8b8" stroke-width="0.8"/>
<line x1="352.78" y1="6.3" x2="352.78" y2="8.7" stroke="#b8b8b8" stroke-width="0.8"/>
<line x1="378.32" y1="139.3" x2="378.32" y2="136.9" stroke="#b8b8b8" stroke-width="0.8"/>
<line x1="378.32" y1="6.3" x2="378.32" y2="8.7" stroke="#b8b8b8" stroke-width="0.8"/>
<line x1="403.87" y1="139.3" x2="403.87" y2="136.9" stroke="#b8b8b8" stroke-width="0.8"/>
<line x1="403.87" y1="6.3" x2="403.87" y2="8.7" stroke="#b8b8b8" stroke-width="0.8"/>
<line x1="429.41" y1="139.3" x2="429.41" y2="136.9" stroke="#b8b8b8" stroke-width="0.8"/>
<line x1="429.41" y1="6.3" x2="429.41" y2="8.7" stroke="#b8b8b8" stroke-width="0.8"/>
<line x1="454.95" y1="139.3" x2="454.95" y2="136.9" stroke="#b8b8b8" stroke-width="0.8"/>
<line x1="454.95" y1="6.3" x2="454.95" y2="8.7" stroke="#b8b8b8" stroke-width="0.8"/>
<line x1="480.49" y1="139.3" x2="480.49" y2="136.9" stroke="#b8b8b8" stroke-width="0.8"/>
<line x1="480.49" y1="6.3" x2="480.49" y2="8.7" stroke="#b8b8b8" stroke-width="0.8"/>
<line x1="506.03" y1="139.3" x2="506.03" y2="136.9" stroke="#b8b8b8" stroke-width="0.8"/>
<line x1="506.03" y1="6.3" x2="506.03" y2="8.7" stroke="#b8b8b8" stroke-width="0.8"/>
<line x1="531.58" y1="139.3" x2="531.58" y2="136.9" stroke="#b8b8b8" stroke-width="0.8"/>
<line x1="531.58" y1="6.3" x2="531.58" y2="8.7" stroke="#b8b8b8" stroke-width="0.8"/>
<line x1="301.7" y1="139.3" x2="304.1" y2="139.3" stroke="#b8b8b8" stroke-width="0.8"/>
<line x1="546.9" y1="139.3" x2="544.5" y2="139.3" stroke="#b8b8b8" stroke-width="0.8"/>
<line x1="301.7" y1="122.68" x2="304.1" y2="122.68" stroke="#b8b8b8" stroke-width="0.8"/>
<line x1="546.9" y1="122.68" x2="544.5" y2="122.68" stroke="#b8b8b8" stroke-width="0.8"/>
<line x1="301.7" y1="106.05" x2="304.1" y2="106.05" stroke="#b8b8b8" stroke-width="0.8"/>
<line x1="546.9" y1="106.05" x2="544.5" y2="106.05" stroke="#b8b8b8" stroke-width="0.8"/>
<line x1="301.7" y1="89.43" x2="304.1" y2="89.43" stroke="#b8b8b8" stroke-width="0.8"/>
<line x1="546.9" y1="89.43" x2="544.5" y2="89.43" stroke="#b8b8b8" stroke-width="0.8"/>
<line x1="301.7" y1="72.8" x2="304.1" y2="72.8" stroke="#b8b8b8" stroke-width="0.8"/>
<line x1="546.9" y1="72.8" x2="544.5" y2="72.8" stroke="#b8b8b8" stroke-width="0.8"/>
<line x1="301.7" y1="56.18" x2="304.1" y2="56.18" stroke="#b8b8b8" stroke-width="0.8"/>
<line x1="546.9" y1="56.18" x2="544.5" y2="56.18" stroke="#b8b8b8" stroke-width="0.8"/>
<line x1="301.7" y1="39.55" x2="304.1" y2="39.55" stroke="#b8b8b8" stroke-width="0.8"/>
<line x1="546.9" y1="39.55" x2="544.5" y2="39.55" stroke="#b8b8b8" stroke-width="0.8"/>
<line x1="301.7" y1="22.93" x2="304.1" y2="22.93" stroke="#b8b8b8" stroke-width="0.8"/>
<line x1="546.9" y1="22.93" x2="544.5" y2="22.93" stroke="#b8b8b8" stroke-width="0.8"/>
<line x1="301.7" y1="6.3" x2="304.1" y2="6.3" stroke="#b8b8b8" stroke-width="0.8"/>
<line x1="546.9" y1="6.3" x2="544.5" y2="6.3" stroke="#b8b8b8" stroke-width="0.8"/>
<g clip-path="url(#cb)">
<polyline points="173.5,171.8 173.95,172.4 174.4,282.42 174.85,215.22 175.3,282.37 175.74,215.57 176.19,282.04 176.64,215.46 177.09,253.26 177.54,215.31 177.99,215.6 178.44,282.49 178.89,215.54 179.34,282.05 179.79,215.16 180.23,282.42 180.68,215.59 181.13,282.56 181.58,215.28 182.03,282.24 182.48,215.39 182.93,282.14 183.38,215.16 183.83,282 184.28,215.4 184.72,215.54 185.17,282.1 185.62,215.23 186.07,282.17 186.52,215.16 186.97,282.47 187.42,215.14 187.87,282.35 188.32,214.85 188.76,282.17 189.21,215.05 189.66,281.9 190.11,282.49 190.56,215.08 191.01,282.34 191.46,238.88 191.91,282.09 192.36,215.44 192.81,282 193.25,215.27 193.7,281.99 194.15,214.92 194.6,282.38 195.05,214.9 195.5,215.52 195.95,282.54 196.4,215.24 196.85,282.51 197.29,215.29 197.74,282.26 198.19,282.15 198.64,215.12 199.09,282.69 199.54,214.99 199.99,282.06 200.44,215.31 200.89,215.56 201.34,215.11 201.78,215.59 202.23,215.59 202.68,215.47 203.13,215.51 203.58,215.36 204.03,282.73 204.48,215.56 204.93,282.71 205.38,215.13 205.82,282.52 206.27,282.44 206.72,282.43 207.17,282.63 207.62,282.02 208.07,282.34 208.52,215.57 208.97,282.44 209.42,214.95 209.87,282.71 210.31,281.93 210.76,282.29 211.21,282.61 211.66,282.28 212.11,282.71 212.56,282.29 213.01,281.91 213.46,282.01 213.91,215.42 214.36,282.59 214.8,215.2 215.25,214.99 215.7,215.37 216.15,215.46 216.6,214.96 217.05,214.93 217.5,209.53 217.95,282.54 218.4,215.34 218.84,282.71 219.29,282.5 219.74,282.51 220.19,282.15 220.64,281.93 221.09,214.86 221.54,214.84 221.99,282.55 222.44,215.48 222.89,282.21 223.33,282.03 223.78,282.33 224.23,282.18 224.68,282.06 225.13,215.09 225.58,214.99 226.03,282.33 226.48,215.49 226.93,214.98 227.38,215.36 227.82,214.97 228.27,267.64 228.72,215.31 229.17,215.31 229.62,214.85 230.07,215.03 230.52,215.5 230.97,215.54 231.42,215.52 231.86,214.97 232.31,282.04 232.76,282.18 233.21,215.18 233.66,282.72 234.11,282.19 234.56,214.86 235.01,282 235.46,282.55 235.91,215.4 236.35,282.24 236.8,215.29 237.25,281.97 237.7,215.26 238.15,281.97 238.6,214.87 239.05,282.28 239.5,215.63 239.95,282.58 240.39,214.97 240.84,282.33 241.29,215.18 241.74,209.41 242.19,214.99 242.64,282.26 243.09,215.41 243.54,282.31 243.99,215.01 244.44,215.27 244.88,205.82 245.33,282.15 245.78,282.28 246.23,281.94 246.68,282 247.13,282.51 247.58,176.11 248.03,282.62 248.48,215.27 248.93,282.53 249.37,215.08 249.82,259.25 250.27,215.04 250.72,282.61 251.17,214.83 251.62,281.93 252.07,215.23 252.52,214.94 252.97,282.37 253.41,215.36 253.86,282.46 254.31,215.63 254.76,282.27 255.21,282.36 255.66,282.72 256.11,282.45 256.56,282.21 257.01,282.3 257.46,282.68 257.9,282.07 258.35,282.64 258.8,215.61 259.25,282.5 259.7,215.29 260.15,214.96 260.6,282.61 261.05,282.25 261.5,215.57 261.94,282.15 262.39,215.58 262.84,215.11 263.29,267.64 263.74,282.67 264.19,282.35 264.64,215.18 265.09,215.42 265.54,282.29 265.99,215.55 266.43,282.69 266.88,215.38 267.33,282.09 267.78,215.22 268.23,282.44 268.68,215.43 269.13,282.72 269.58,282.12 270.03,282.27 270.48,282.57 270.92,282.33 271.37,282.64 271.82,215.28 272.27,282.03 272.72,215.22 273.17,281.91 273.62,214.94 274.07,282.2 274.52,215.35 274.96,282.62 275.41,215.02 275.86,282.59 276.31,214.94 276.76,282.17 277.21,215.44 277.66,215.4 278.11,215.26 278.56,215.51 279.01,204.02 279.45,281.92 279.9,282.27 280.35,214.83 280.8,282.43 281.25,215.32 281.7,282.31 282.15,215.22 282.6,282.51 283.05,215.31 283.49,282.71 283.94,215.45 284.39,282.29 284.84,282.1 285.29,282.18 285.74,197.67 286.19,282.46 286.64,282.61 287.09,282.19 287.54,214.94 287.98,282.2 288.43,214.96 288.88,282.29 289.33,214.94 289.78,282.04 290.23,214.89 290.68,282.15 291.13,272.43 291.58,282.62 292.02,282.43 292.47,282.64 292.92,282.03 293.37,282.26 293.82,282.2 294.27,282.21 294.72,282.32 295.17,214.97 295.62,215.22 296.07,215.09 296.51,282.11 296.96,215.58 297.41,282.12 297.86,215.02 298.31,215.23 298.76,282.33 299.21,215 299.66,282.19 300.11,271.23 300.56,282.11 301,215.17 301.45,282.68 301.9,215.08 302.35,282.16 302.8,198.75 303.25,282.34 303.7,214.89 304.15,281.91 304.6,282.72 305.04,282.35 305.49,282.04 305.94,281.92 306.39,282.35 306.84,282.51 307.29,282.55 307.74,282.55 308.19,258.05 308.64,281.93 309.09,214.95 309.53,214.9 309.98,215.45 310.43,214.89 310.88,215.24 311.33,282.73 311.78,215.26 312.23,282.61 312.68,215.38 313.13,214.94 313.57,215.64 314.02,215.01 314.47,214.94 314.92,215.54 315.37,214.87 315.82,215.04 316.27,214.89 316.72,215.4 317.17,215.33 317.62,215.31 318.06,214.81 318.51,215.15 318.96,282.37 319.41,215.6 319.86,282.03 320.31,214.86 320.76,282.51 321.21,215.48 321.66,249.67 322.11,214.96 322.55,281.96 323,281.94 323.45,282.27 323.9,282.13 324.35,282.69 324.8,215.26 325.25,282.19 325.7,215.6 326.15,215.54 326.59,282.44 327.04,215.02 327.49,281.91 327.94,282.51 328.39,260.45 328.84,282.48 329.29,282.26 329.74,282.4 330.19,282.59 330.64,268.83 331.08,214.88 331.53,282.55 331.98,281.9 332.43,215.53 332.88,282.65 333.33,215.57 333.78,282.51 334.23,282.25 334.68,281.99 335.12,282.1 335.57,215.3 336.02,206.18 336.47,282.68 336.92,214.83 337.37,215.54 337.82,215.22 338.27,215.11 338.72,282.55 339.17,215.43 339.61,282.36 340.06,282.02 340.51,215.62 340.96,282.14 341.41,215.25 341.86,282.73 342.31,214.87 342.76,198.99 343.21,215.43 343.66,282.6 344.1,215.07 344.55,215.04 345,282.19 345.45,282.09 345.9,282.35 346.35,282.27 346.8,282.7 347.25,282.07 347.7,282.54 348.14,282.19 348.59,215.54 349.04,282.2 349.49,282.14 349.94,282.64 350.39,282.67 350.84,282.29 351.29,282.24 351.74,282.41 352.19,282.54 352.63,282.23 353.08,282.72 353.53,282.48 353.98,249.67 354.43,281.93 354.88,282.19 355.33,281.99 355.78,282.33 356.23,282.53 356.68,282.52 357.12,281.93 357.57,282.14 358.02,215.62 358.47,282.17 358.92,212.17 359.37,249.67 359.82,215.61 360.27,215.36 360.72,215.29 361.16,236.49 361.61,215.48 362.06,282.11 362.51,215.47 362.96,215.38 363.41,198.15 363.86,282.09 364.31,214.84 364.76,282.57 365.21,215.29 365.65,281.94 366.1,215.31 366.55,281.91 367,215.6 367.45,198.15 367.9,281.99 368.35,214.81 368.8,215.37 369.25,281.95 369.69,215.62 370.14,215.09 370.59,215.33 371.04,282.45 371.49,215.64 371.94,282.44 372.39,282.63 372.84,282.56 373.29,214.95 373.74,282.04 374.18,282.37 374.63,282.69 375.08,282.33 375.53,282.42 375.98,282.57 376.43,214.89 376.88,282.39 377.33,215 377.78,282.7 378.23,214.87 378.67,282.1 379.12,215.36 379.57,281.93 380.02,215.42 380.47,282.47 380.92,215.64 381.37,281.96 381.82,214.85 382.27,215.62 382.71,215.45 383.16,281.93 383.61,282.41 384.06,215.28 384.51,281.95 384.96,214.97 385.41,282.04 385.86,215.13 386.31,282.46 386.76,214.99 387.2,282.57 387.65,215.44 388.1,282.7 388.55,215.37 389,214.82" fill="none" stroke="#0e71c0" stroke-width="1.2" stroke-linejoin="round" opacity="1.0"/>
</g>
<rect x="173.5" y="169.4" width="215.5" height="119.8" fill="none" stroke="#d4d4d4" stroke-width="1"/>
<line x1="173.5" y1="289.2" x2="173.5" y2="287.1" stroke="#b8b8b8" stroke-width="0.8"/>
<line x1="173.5" y1="169.4" x2="173.5" y2="171.5" stroke="#b8b8b8" stroke-width="0.8"/>
<line x1="195.95" y1="289.2" x2="195.95" y2="287.1" stroke="#b8b8b8" stroke-width="0.8"/>
<line x1="195.95" y1="169.4" x2="195.95" y2="171.5" stroke="#b8b8b8" stroke-width="0.8"/>
<line x1="218.4" y1="289.2" x2="218.4" y2="287.1" stroke="#b8b8b8" stroke-width="0.8"/>
<line x1="218.4" y1="169.4" x2="218.4" y2="171.5" stroke="#b8b8b8" stroke-width="0.8"/>
<line x1="240.84" y1="289.2" x2="240.84" y2="287.1" stroke="#b8b8b8" stroke-width="0.8"/>
<line x1="240.84" y1="169.4" x2="240.84" y2="171.5" stroke="#b8b8b8" stroke-width="0.8"/>
<line x1="263.29" y1="289.2" x2="263.29" y2="287.1" stroke="#b8b8b8" stroke-width="0.8"/>
<line x1="263.29" y1="169.4" x2="263.29" y2="171.5" stroke="#b8b8b8" stroke-width="0.8"/>
<line x1="285.74" y1="289.2" x2="285.74" y2="287.1" stroke="#b8b8b8" stroke-width="0.8"/>
<line x1="285.74" y1="169.4" x2="285.74" y2="171.5" stroke="#b8b8b8" stroke-width="0.8"/>
<line x1="308.19" y1="289.2" x2="308.19" y2="287.1" stroke="#b8b8b8" stroke-width="0.8"/>
<line x1="308.19" y1="169.4" x2="308.19" y2="171.5" stroke="#b8b8b8" stroke-width="0.8"/>
<line x1="330.64" y1="289.2" x2="330.64" y2="287.1" stroke="#b8b8b8" stroke-width="0.8"/>
<line x1="330.64" y1="169.4" x2="330.64" y2="171.5" stroke="#b8b8b8" stroke-width="0.8"/>
<line x1="353.08" y1="289.2" x2="353.08" y2="287.1" stroke="#b8b8b8" stroke-width="0.8"/>
<line x1="353.08" y1="169.4" x2="353.08" y2="171.5" stroke="#b8b8b8" stroke-width="0.8"/>
<line x1="375.53" y1="289.2" x2="375.53" y2="287.1" stroke="#b8b8b8" stroke-width="0.8"/>
<line x1="375.53" y1="169.4" x2="375.53" y2="171.5" stroke="#b8b8b8" stroke-width="0.8"/>
<line x1="173.5" y1="289.2" x2="175.6" y2="289.2" stroke="#b8b8b8" stroke-width="0.8"/>
<line x1="389" y1="289.2" x2="386.9" y2="289.2" stroke="#b8b8b8" stroke-width="0.8"/>
<line x1="173.5" y1="277.22" x2="175.6" y2="277.22" stroke="#b8b8b8" stroke-width="0.8"/>
<line x1="389" y1="277.22" x2="386.9" y2="277.22" stroke="#b8b8b8" stroke-width="0.8"/>
<line x1="173.5" y1="265.24" x2="175.6" y2="265.24" stroke="#b8b8b8" stroke-width="0.8"/>
<line x1="389" y1="265.24" x2="386.9" y2="265.24" stroke="#b8b8b8" stroke-width="0.8"/>
<line x1="173.5" y1="253.26" x2="175.6" y2="253.26" stroke="#b8b8b8" stroke-width="0.8"/>
<line x1="389" y1="253.26" x2="386.9" y2="253.26" stroke="#b8b8b8" stroke-width="0.8"/>
<line x1="173.5" y1="241.28" x2="175.6" y2="241.28" stroke="#b8b8b8" stroke-width="0.8"/>
<line x1="389" y1="241.28" x2="386.9" y2="241.28" stroke="#b8b8b8" stroke-width="0.8"/>
<line x1="173.5" y1="229.3" x2="175.6" y2="229.3" stroke="#b8b8b8" stroke-width="0.8"/>
<line x1="389" y1="229.3" x2="386.9" y2="229.3" stroke="#b8b8b8" stroke-width="0.8"/>
<line x1="173.5" y1="217.32" x2="175.6" y2="217.32" stroke="#b8b8b8" stroke-width="0.8"/>
<line x1="389" y1="217.32" x2="386.9" y2="217.32" stroke="#b8b8b8" stroke-width="0.8"/>
<line x1="173.5" y1="205.34" x2="175.6" y2="205.34" stroke="#b8b8b8" stroke-width="0.8"/>
<line x1="389" y1="205.34" x2="386.9" y2="205.34" stroke="#b8b8b8" stroke-width="0.8"/>
<line x1="173.5" y1="193.36" x2="175.6" y2="193.36" stroke="#b8b8b8" stroke-width="0.8"/>
<line x1="389" y1="193.36" x2="386.9" y2="193.36" stroke="#b8b8b8" stroke-width="0.8"/>
<line x1="173.5" y1="181.38" x2="175.6" y2="181.38" stroke="#b8b8b8" stroke-width="0.8"/>
<line x1="389" y1="181.38" x2="386.9" y2="181.38" stroke="#b8b8b8" stroke-width="0.8"/>
<line x1="173.5" y1="169.4" x2="175.6" y2="169.4" stroke="#b8b8b8" stroke-width="0.8"/>
<line x1="389" y1="169.4" x2="386.9" y2="169.4" stroke="#b8b8b8" stroke-width="0.8"/>
<defs>
<clipPath id="cl"><rect x="23.4" y="6.3" width="245.20000000000002" height="133.0"/></clipPath>
<clipPath id="cr"><rect x="301.7" y="6.3" width="245.2" height="133.0"/></clipPath>
<clipPath id="cb"><rect x="173.5" y="167.4" width="215.5" height="121.79999999999998"/></clipPath>
</defs>
<rect x="151.3" y="9.9" width="30.1" height="58.4" fill="#ffffff" stroke="#d4d4d4" stroke-width="0.9"/>
<line x1="153.1" y1="14.8" x2="163.6" y2="14.8" stroke="#33299c" stroke-width="1.4"/>
<text x="164.3" y="17.03" font-size="6.2" textLength="15.9" lengthAdjust="spacingAndGlyphs" fill="#303030" stroke="#303030" stroke-width="0.1">Zone1</text>
<line x1="153.1" y1="21.97" x2="163.6" y2="21.97" stroke="#16803a" stroke-width="1.4"/>
<text x="164.3" y="24.2" font-size="6.2" textLength="15.9" lengthAdjust="spacingAndGlyphs" fill="#303030" stroke="#303030" stroke-width="0.1">Zone2</text>
<line x1="153.1" y1="29.14" x2="163.6" y2="29.14" stroke="#5cc0b0" stroke-width="1.4"/>
<text x="164.3" y="31.37" font-size="6.2" textLength="15.9" lengthAdjust="spacingAndGlyphs" fill="#303030" stroke="#303030" stroke-width="0.1">Zone3</text>
<line x1="153.1" y1="36.31" x2="163.6" y2="36.31" stroke="#a0dcf2" stroke-width="1.4"/>
<text x="164.3" y="38.54" font-size="6.2" textLength="15.9" lengthAdjust="spacingAndGlyphs" fill="#303030" stroke="#303030" stroke-width="0.1">Zone4</text>
<line x1="153.1" y1="43.48" x2="163.6" y2="43.48" stroke="#f0d88a" stroke-width="1.4"/>
<text x="164.3" y="45.71" font-size="6.2" textLength="15.9" lengthAdjust="spacingAndGlyphs" fill="#303030" stroke="#303030" stroke-width="0.1">Zone5</text>
<line x1="153.1" y1="50.65" x2="163.6" y2="50.65" stroke="#e06478" stroke-width="1.4"/>
<text x="164.3" y="52.88" font-size="6.2" textLength="15.9" lengthAdjust="spacingAndGlyphs" fill="#303030" stroke="#303030" stroke-width="0.1">Zone6</text>
<line x1="153.1" y1="57.82" x2="163.6" y2="57.82" stroke="#b02a9e" stroke-width="1.4" stroke-dasharray="2.6,1.6"/>
<text x="164.3" y="60.05" font-size="6.2" textLength="15.9" lengthAdjust="spacingAndGlyphs" fill="#303030" stroke="#303030" stroke-width="0.1">Zone7</text>
<line x1="153.1" y1="64.99" x2="163.6" y2="64.99" stroke="#a23d76" stroke-width="1.4"/>
<text x="164.3" y="67.22" font-size="6.2" textLength="15.9" lengthAdjust="spacingAndGlyphs" fill="#303030" stroke="#303030" stroke-width="0.1">Zone8</text>
<rect x="429.3" y="77.1" width="30.4" height="58.2" fill="#ffffff" stroke="#d4d4d4" stroke-width="0.9"/>
<line x1="431.1" y1="81.9" x2="441.6" y2="81.9" stroke="#33299c" stroke-width="1.4"/>
<text x="442.3" y="84.13" font-size="6.2" textLength="15.9" lengthAdjust="spacingAndGlyphs" fill="#303030" stroke="#303030" stroke-width="0.1">Zone1</text>
<line x1="431.1" y1="89.07" x2="441.6" y2="89.07" stroke="#16803a" stroke-width="1.4"/>
<text x="442.3" y="91.3" font-size="6.2" textLength="15.9" lengthAdjust="spacingAndGlyphs" fill="#303030" stroke="#303030" stroke-width="0.1">Zone2</text>
<line x1="431.1" y1="96.24" x2="441.6" y2="96.24" stroke="#5cc0b0" stroke-width="1.4"/>
<text x="442.3" y="98.47" font-size="6.2" textLength="15.9" lengthAdjust="spacingAndGlyphs" fill="#303030" stroke="#303030" stroke-width="0.1">Zone3</text>
<line x1="431.1" y1="103.41" x2="441.6" y2="103.41" stroke="#a0dcf2" stroke-width="1.4"/>
<text x="442.3" y="105.64" font-size="6.2" textLength="15.9" lengthAdjust="spacingAndGlyphs" fill="#303030" stroke="#303030" stroke-width="0.1">Zone4</text>
<line x1="431.1" y1="110.58" x2="441.6" y2="110.58" stroke="#f0d88a" stroke-width="1.4"/>
<text x="442.3" y="112.81" font-size="6.2" textLength="15.9" lengthAdjust="spacingAndGlyphs" fill="#303030" stroke="#303030" stroke-width="0.1">Zone5</text>
<line x1="431.1" y1="117.75" x2="441.6" y2="117.75" stroke="#e06478" stroke-width="1.4"/>
<text x="442.3" y="119.98" font-size="6.2" textLength="15.9" lengthAdjust="spacingAndGlyphs" fill="#303030" stroke="#303030" stroke-width="0.1">Zone6</text>
<line x1="431.1" y1="124.92" x2="441.6" y2="124.92" stroke="#b02a9e" stroke-width="1.4" stroke-dasharray="2.6,1.6"/>
<text x="442.3" y="127.15" font-size="6.2" textLength="15.9" lengthAdjust="spacingAndGlyphs" fill="#303030" stroke="#303030" stroke-width="0.1">Zone7</text>
<line x1="431.1" y1="132.09" x2="441.6" y2="132.09" stroke="#d4a3bd" stroke-width="1.4"/>
<text x="442.3" y="134.32" font-size="6.2" textLength="15.9" lengthAdjust="spacingAndGlyphs" fill="#303030" stroke="#303030" stroke-width="0.1">Zone8</text>
<g fill="#303030" stroke="#303030" stroke-width="0.1">
<text x="23.4" y="147.8" text-anchor="middle" font-size="6.4" textLength="3.1" lengthAdjust="spacingAndGlyphs">0</text>
<text x="48.94" y="147.8" text-anchor="middle" font-size="6.4" textLength="6.19" lengthAdjust="spacingAndGlyphs">50</text>
<text x="74.48" y="147.8" text-anchor="middle" font-size="6.4" textLength="9.29" lengthAdjust="spacingAndGlyphs">100</text>
<text x="100.03" y="147.8" text-anchor="middle" font-size="6.4" textLength="9.29" lengthAdjust="spacingAndGlyphs">150</text>
<text x="125.57" y="147.8" text-anchor="middle" font-size="6.4" textLength="9.29" lengthAdjust="spacingAndGlyphs">200</text>
<text x="151.11" y="147.8" text-anchor="middle" font-size="6.4" textLength="9.29" lengthAdjust="spacingAndGlyphs">250</text>
<text x="176.65" y="147.8" text-anchor="middle" font-size="6.4" textLength="9.29" lengthAdjust="spacingAndGlyphs">300</text>
<text x="202.19" y="147.8" text-anchor="middle" font-size="6.4" textLength="9.29" lengthAdjust="spacingAndGlyphs">350</text>
<text x="227.73" y="147.8" text-anchor="middle" font-size="6.4" textLength="9.29" lengthAdjust="spacingAndGlyphs">400</text>
<text x="253.28" y="147.8" text-anchor="middle" font-size="6.4" textLength="9.29" lengthAdjust="spacingAndGlyphs">450</text>
<text x="21.4" y="141.6" text-anchor="end" font-size="6.4" textLength="3.1" lengthAdjust="spacingAndGlyphs">4</text>
<text x="21.4" y="119.44" text-anchor="end" font-size="6.4" textLength="3.1" lengthAdjust="spacingAndGlyphs">6</text>
<text x="21.4" y="97.27" text-anchor="end" font-size="6.4" textLength="3.1" lengthAdjust="spacingAndGlyphs">8</text>
<text x="21.4" y="75.1" text-anchor="end" font-size="6.4" textLength="6.19" lengthAdjust="spacingAndGlyphs">10</text>
<text x="21.4" y="52.94" text-anchor="end" font-size="6.4" textLength="6.19" lengthAdjust="spacingAndGlyphs">12</text>
<text x="21.4" y="30.77" text-anchor="end" font-size="6.4" textLength="6.19" lengthAdjust="spacingAndGlyphs">14</text>
<text x="21.4" y="8.6" text-anchor="end" font-size="6.4" textLength="6.19" lengthAdjust="spacingAndGlyphs">16</text>
<text x="301.7" y="147.8" text-anchor="middle" font-size="6.4" textLength="3.1" lengthAdjust="spacingAndGlyphs">0</text>
<text x="327.24" y="147.8" text-anchor="middle" font-size="6.4" textLength="6.19" lengthAdjust="spacingAndGlyphs">50</text>
<text x="352.78" y="147.8" text-anchor="middle" font-size="6.4" textLength="9.29" lengthAdjust="spacingAndGlyphs">100</text>
<text x="378.32" y="147.8" text-anchor="middle" font-size="6.4" textLength="9.29" lengthAdjust="spacingAndGlyphs">150</text>
<text x="403.87" y="147.8" text-anchor="middle" font-size="6.4" textLength="9.29" lengthAdjust="spacingAndGlyphs">200</text>
<text x="429.41" y="147.8" text-anchor="middle" font-size="6.4" textLength="9.29" lengthAdjust="spacingAndGlyphs">250</text>
<text x="454.95" y="147.8" text-anchor="middle" font-size="6.4" textLength="9.29" lengthAdjust="spacingAndGlyphs">300</text>
<text x="480.49" y="147.8" text-anchor="middle" font-size="6.4" textLength="9.29" lengthAdjust="spacingAndGlyphs">350</text>
<text x="506.03" y="147.8" text-anchor="middle" font-size="6.4" textLength="9.29" lengthAdjust="spacingAndGlyphs">400</text>
<text x="531.58" y="147.8" text-anchor="middle" font-size="6.4" textLength="9.29" lengthAdjust="spacingAndGlyphs">450</text>
<text x="299.7" y="141.6" text-anchor="end" font-size="6.4" textLength="6.19" lengthAdjust="spacingAndGlyphs">18</text>
<text x="299.7" y="124.98" text-anchor="end" font-size="6.4" textLength="10.84" lengthAdjust="spacingAndGlyphs">18.5</text>
<text x="299.7" y="108.35" text-anchor="end" font-size="6.4" textLength="6.19" lengthAdjust="spacingAndGlyphs">19</text>
<text x="299.7" y="91.73" text-anchor="end" font-size="6.4" textLength="10.84" lengthAdjust="spacingAndGlyphs">19.5</text>
<text x="299.7" y="75.1" text-anchor="end" font-size="6.4" textLength="6.19" lengthAdjust="spacingAndGlyphs">20</text>
<text x="299.7" y="58.48" text-anchor="end" font-size="6.4" textLength="10.84" lengthAdjust="spacingAndGlyphs">20.5</text>
<text x="299.7" y="41.85" text-anchor="end" font-size="6.4" textLength="6.19" lengthAdjust="spacingAndGlyphs">21</text>
<text x="299.7" y="25.23" text-anchor="end" font-size="6.4" textLength="10.84" lengthAdjust="spacingAndGlyphs">21.5</text>
<text x="299.7" y="8.6" text-anchor="end" font-size="6.4" textLength="6.19" lengthAdjust="spacingAndGlyphs">22</text>
<text x="173.5" y="296.8" text-anchor="middle" font-size="5.5" textLength="2.66" lengthAdjust="spacingAndGlyphs">0</text>
<text x="195.95" y="296.8" text-anchor="middle" font-size="5.5" textLength="5.32" lengthAdjust="spacingAndGlyphs">50</text>
<text x="218.4" y="296.8" text-anchor="middle" font-size="5.5" textLength="7.98" lengthAdjust="spacingAndGlyphs">100</text>
<text x="240.84" y="296.8" text-anchor="middle" font-size="5.5" textLength="7.98" lengthAdjust="spacingAndGlyphs">150</text>
<text x="263.29" y="296.8" text-anchor="middle" font-size="5.5" textLength="7.98" lengthAdjust="spacingAndGlyphs">200</text>
<text x="285.74" y="296.8" text-anchor="middle" font-size="5.5" textLength="7.98" lengthAdjust="spacingAndGlyphs">250</text>
<text x="308.19" y="296.8" text-anchor="middle" font-size="5.5" textLength="7.98" lengthAdjust="spacingAndGlyphs">300</text>
<text x="330.64" y="296.8" text-anchor="middle" font-size="5.5" textLength="7.98" lengthAdjust="spacingAndGlyphs">350</text>
<text x="353.08" y="296.8" text-anchor="middle" font-size="5.5" textLength="7.98" lengthAdjust="spacingAndGlyphs">400</text>
<text x="375.53" y="296.8" text-anchor="middle" font-size="5.5" textLength="7.98" lengthAdjust="spacingAndGlyphs">450</text>
<text x="171.6" y="291.18" text-anchor="end" font-size="5.5" textLength="2.66" lengthAdjust="spacingAndGlyphs">0</text>
<text x="171.6" y="279.2" text-anchor="end" font-size="5.5" textLength="7.98" lengthAdjust="spacingAndGlyphs">100</text>
<text x="171.6" y="267.22" text-anchor="end" font-size="5.5" textLength="7.98" lengthAdjust="spacingAndGlyphs">200</text>
<text x="171.6" y="255.24" text-anchor="end" font-size="5.5" textLength="7.98" lengthAdjust="spacingAndGlyphs">300</text>
<text x="171.6" y="243.26" text-anchor="end" font-size="5.5" textLength="7.98" lengthAdjust="spacingAndGlyphs">400</text>
<text x="171.6" y="231.28" text-anchor="end" font-size="5.5" textLength="7.98" lengthAdjust="spacingAndGlyphs">500</text>
<text x="171.6" y="219.3" text-anchor="end" font-size="5.5" textLength="7.98" lengthAdjust="spacingAndGlyphs">600</text>
<text x="171.6" y="207.32" text-anchor="end" font-size="5.5" textLength="7.98" lengthAdjust="spacingAndGlyphs">700</text>
<text x="171.6" y="195.34" text-anchor="end" font-size="5.5" textLength="7.98" lengthAdjust="spacingAndGlyphs">800</text>
<text x="171.6" y="183.36" text-anchor="end" font-size="5.5" textLength="7.98" lengthAdjust="spacingAndGlyphs">900</text>
<text x="171.6" y="171.38" text-anchor="end" font-size="5.5" textLength="10.64" lengthAdjust="spacingAndGlyphs">1000</text>
<text x="146" y="155.6" text-anchor="middle" font-size="6.3">Timestep</text>
<text x="424.3" y="155.6" text-anchor="middle" font-size="6.3">Timestep</text>
<text x="281.25" y="303.8" text-anchor="middle" font-size="5.4">Timestep</text>
<text transform="translate(13.6,72.9) rotate(-90)" text-anchor="middle" font-size="6.3">PPD (%)</text>
<text transform="translate(287.1,73.9) rotate(-90)" text-anchor="middle" font-size="6.4">Temperature (°C)</text>
<text transform="translate(159.2,229.2) rotate(-90)" text-anchor="middle" font-size="5.75">HVAC energy consumption (Wh)</text>
</g>
</svg></body></html>
